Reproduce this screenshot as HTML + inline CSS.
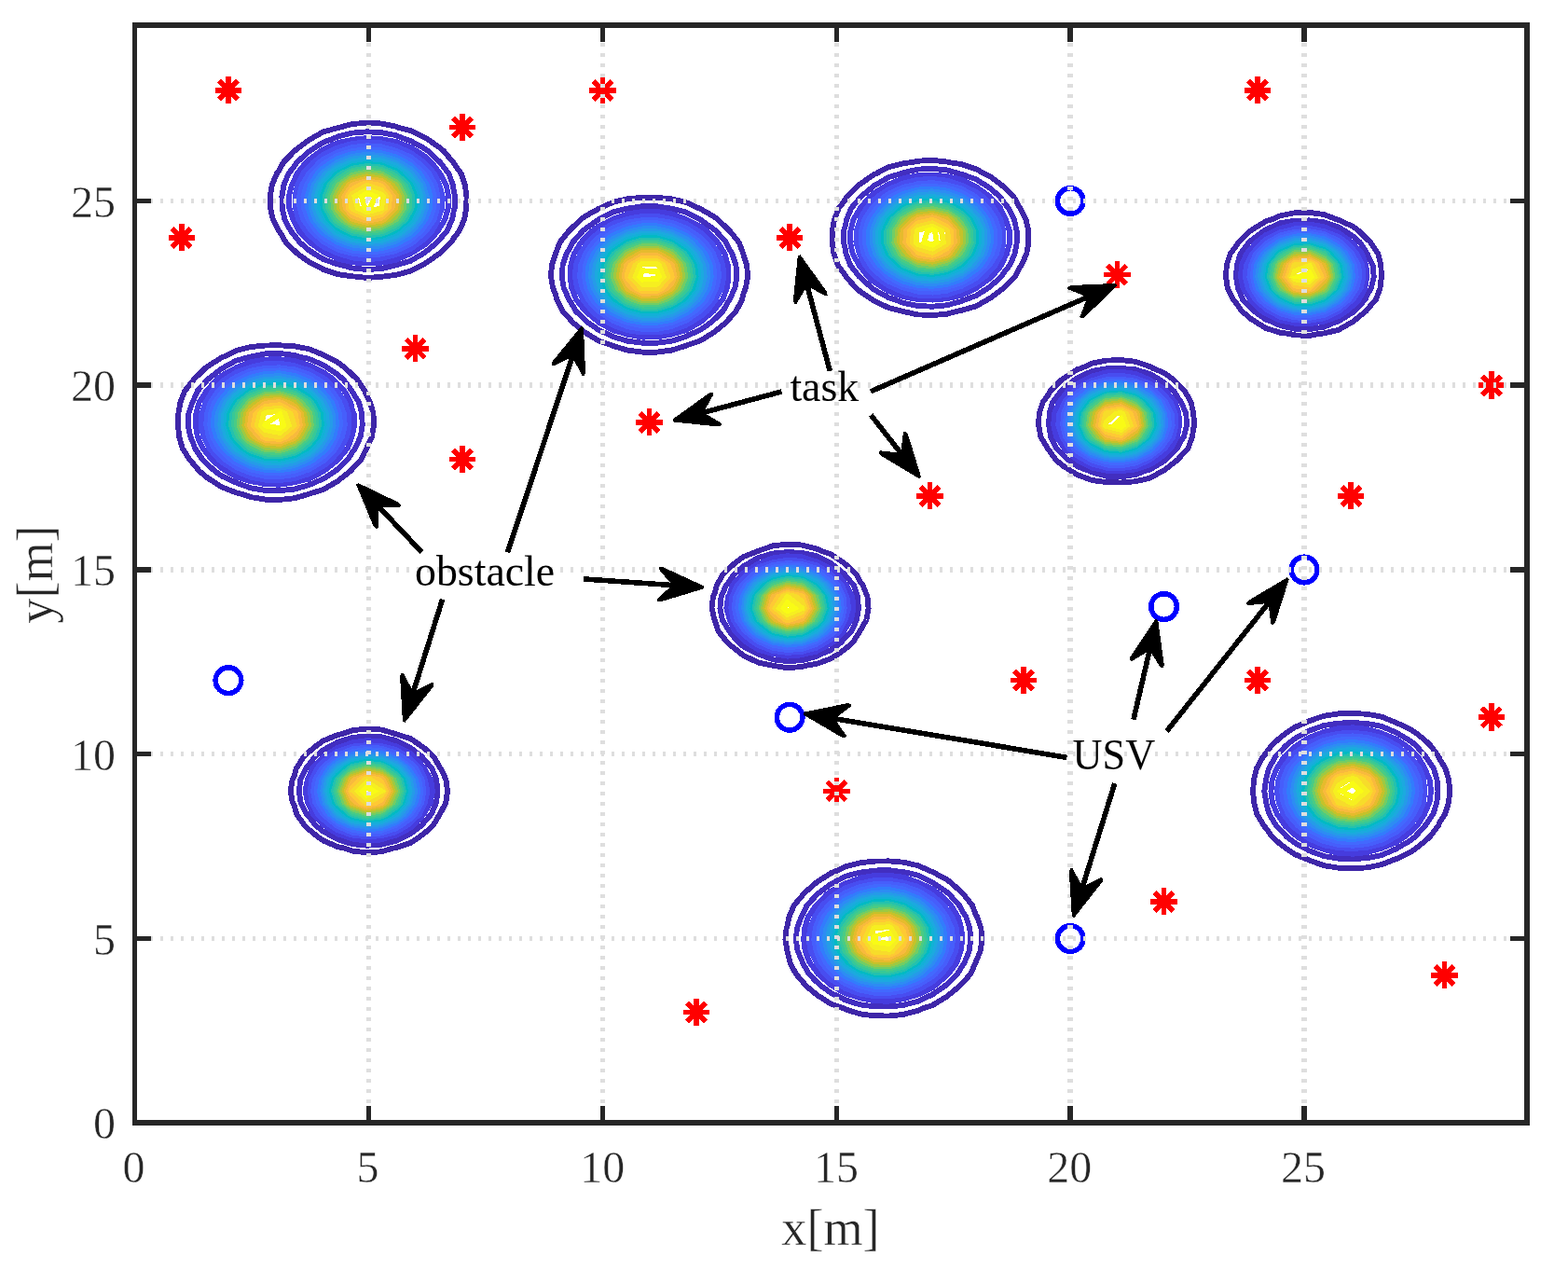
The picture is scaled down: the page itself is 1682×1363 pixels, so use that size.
<!DOCTYPE html>
<html lang="en"><head><meta charset="utf-8"><title>USV task allocation map</title>
<style>
html,body{margin:0;padding:0;background:#fff;overflow:hidden;}
body{width:1682px;height:1363px;overflow:hidden;}
svg{display:block;}
text{font-family:"Liberation Serif","Times New Roman",serif;}
.tk{font-size:48px;fill:#262626;stroke:#fff;stroke-width:0.45px;}
.al{font-size:54.17px;fill:#262626;stroke:#fff;stroke-width:0.4px;}
.an{font-size:45.83px;fill:#000;}
</style></head><body>
<svg width="1682" height="1363" viewBox="0 0 1682 1363">
<rect width="1682" height="1363" fill="#fff"/>
<g fill="none" stroke-width="5.85" stroke-linejoin="miter" shape-rendering="crispEdges">
<path stroke="#3e26a8" d="M904.8 1081.3L906.8 1082.3L922.4 1087.3L937.9 1089.3L953.5 1089.5L969.1 1087.9L984.6 1083.8L990.2 1081.3L1000.2 1078.1L1015.0 1069.1L1015.7 1068.6L1030.1 1056.8L1031.3 1055.5L1041.1 1044.6L1046.6 1032.3L1046.8 1031.4L1051.6 1020.0L1053.4 1007.8L1052.4 995.5L1048.2 983.3L1046.8 981.0L1043.0 971.0L1033.3 958.7L1031.3 956.8L1020.0 946.5L1015.7 943.3L1000.2 934.9L998.2 934.2L984.6 928.2L969.1 924.7L953.5 923.4L937.9 923.6L922.4 925.3L906.8 929.4L896.6 934.2L891.3 936.3L875.7 946.4L875.6 946.5L861.7 958.7L860.2 960.9L851.7 971.0L846.5 983.3L844.6 992.7L843.6 995.5L842.4 1007.8L844.5 1020.0L844.6 1020.3L847.5 1032.3L853.9 1044.6L860.2 1051.7L864.3 1056.8L875.7 1066.5L879.6 1069.1L891.3 1076.5ZM1403.4 922.0L1404.6 922.6L1420.2 928.2L1435.7 930.7L1451.3 931.3L1466.8 930.3L1482.4 927.1L1495.1 922.0L1498.0 921.1L1513.5 913.6L1519.1 909.7L1529.1 901.6L1533.7 897.4L1543.0 885.2L1544.6 881.6L1550.1 872.9L1554.0 860.7L1555.2 848.4L1554.1 836.1L1550.4 823.9L1544.6 814.4L1543.4 811.6L1534.5 799.4L1529.1 794.3L1520.3 787.1L1513.5 782.3L1498.0 775.1L1497.1 774.8L1482.4 768.8L1466.8 765.8L1451.3 764.9L1435.7 765.4L1420.2 767.8L1404.6 773.1L1401.2 774.8L1389.1 779.8L1378.3 787.1L1373.5 790.8L1363.9 799.4L1358.0 807.8L1354.8 811.6L1348.0 823.9L1345.0 836.1L1344.1 848.4L1345.1 860.7L1348.3 872.9L1355.5 885.2L1358.0 888.1L1364.7 897.4L1373.5 905.3L1379.4 909.7L1389.1 916.2ZM369.8 909.7L377.9 912.5L393.5 914.4L409.0 913.3L421.2 909.7L424.6 909.2L440.2 903.9L450.0 897.4L455.7 893.2L464.7 885.2L471.3 873.8L472.0 872.9L478.3 860.7L480.0 848.4L478.5 836.1L472.6 823.9L471.3 822.1L465.4 811.6L455.7 802.8L451.1 799.4L440.2 792.1L424.6 787.1L424.4 787.1L409.0 782.5L393.5 781.5L377.9 783.3L366.8 787.1L362.4 788.0L346.8 794.4L339.7 799.4L331.3 806.5L325.8 811.6L317.9 823.9L315.7 831.9L313.6 836.1L311.6 848.4L313.9 860.7L315.7 864.2L318.2 872.9L326.6 885.2L331.3 889.5L340.9 897.4L346.8 901.5L362.4 908.2ZM828.2 713.5L829.1 713.8L844.6 716.2L860.2 715.0L865.4 713.5L875.7 712.0L891.3 706.4L899.2 701.3L906.8 696.0L914.8 689.0L922.4 676.9L922.5 676.7L929.5 664.5L931.6 652.2L930.5 640.0L925.6 627.7L922.4 623.5L918.2 615.4L906.8 604.9L904.6 603.2L891.3 594.3L881.1 590.9L875.7 588.4L860.2 584.5L844.6 583.7L829.1 585.3L813.5 590.8L813.3 590.9L797.9 596.9L789.1 603.2L782.4 609.2L775.9 615.4L768.8 627.7L766.8 635.9L764.9 640.0L763.5 652.2L766.4 664.5L766.8 665.2L770.4 676.7L780.2 689.0L782.4 691.0L795.4 701.3L797.9 703.0L813.5 710.7ZM258.9 529.6L269.0 533.1L284.6 535.6L300.2 535.9L315.7 534.3L331.3 529.8L331.6 529.6L346.8 525.0L359.8 517.4L362.4 515.8L376.0 505.1L377.9 502.9L387.4 492.8L393.4 480.6L393.5 480.1L398.9 468.3L401.0 456.1L400.5 443.8L397.1 431.5L393.5 425.0L391.4 419.3L383.2 407.0L377.9 401.8L370.5 394.8L362.4 388.7L350.4 382.5L346.8 380.5L331.3 374.2L315.7 371.3L300.2 370.3L284.6 370.5L269.0 372.1L253.5 375.9L240.1 382.5L237.9 383.4L222.4 393.1L220.3 394.8L207.8 407.0L206.8 408.5L198.2 419.3L193.4 431.5L191.3 443.8L191.3 444.5L190.6 456.1L191.3 459.3L192.2 468.3L195.7 480.6L203.3 492.8L206.8 496.8L213.8 505.1L222.4 512.3L230.2 517.4L237.9 522.3L253.5 528.4ZM1199.3 517.4L1202.4 517.5L1203.4 517.4L1218.0 516.3L1233.5 512.7L1247.2 505.1L1249.1 504.2L1263.5 492.8L1264.6 491.5L1274.5 480.6L1279.0 468.3L1280.2 459.5L1281.2 456.1L1280.2 443.9L1280.2 443.8L1277.7 431.5L1270.8 419.3L1264.6 413.1L1258.5 407.0L1249.1 400.1L1236.6 394.8L1233.5 393.1L1218.0 387.8L1202.4 386.1L1186.8 386.6L1171.3 389.7L1160.2 394.8L1155.7 396.2L1140.2 406.2L1139.1 407.0L1126.6 419.3L1124.6 423.2L1118.6 431.5L1114.7 443.8L1114.1 456.1L1116.4 468.3L1123.6 480.6L1124.6 481.8L1132.3 492.8L1140.2 499.5L1149.1 505.1L1155.7 509.2L1171.3 515.0L1186.8 517.1ZM656.2 370.2L657.9 371.0L673.5 375.7L689.1 377.6L704.6 377.6L720.2 375.6L735.7 370.8L736.9 370.2L751.3 365.4L763.2 358.0L766.8 355.7L778.9 345.7L782.4 341.6L789.7 333.5L796.0 321.2L797.9 313.6L799.9 308.9L802.1 296.7L801.2 284.4L797.9 275.0L797.4 272.2L792.7 259.9L782.7 247.6L782.4 247.3L770.1 235.4L766.8 232.9L751.3 223.9L749.1 223.1L735.7 216.9L720.2 213.3L704.6 211.8L689.1 211.8L673.5 213.2L657.9 216.7L644.1 223.1L642.4 223.7L626.8 232.5L623.0 235.4L611.3 246.7L610.3 247.6L600.5 259.9L595.9 272.2L595.7 273.2L591.9 284.4L591.0 296.7L593.1 308.9L595.7 315.1L597.3 321.2L603.4 333.5L611.3 342.1L614.3 345.7L626.8 356.0L630.0 358.0L642.4 365.6ZM1383.5 358.0L1389.1 359.4L1404.6 359.9L1414.5 358.0L1420.2 357.5L1435.7 353.8L1449.9 345.7L1451.3 345.0L1465.5 333.5L1466.8 331.7L1476.0 321.2L1480.5 308.9L1481.9 296.7L1481.3 284.4L1478.3 272.2L1470.1 259.9L1466.8 256.7L1457.7 247.6L1451.3 242.9L1435.7 235.8L1434.0 235.4L1420.2 230.0L1404.6 227.9L1389.1 228.2L1373.5 231.3L1364.1 235.4L1358.0 237.2L1342.4 246.8L1341.3 247.6L1328.4 259.9L1326.8 262.7L1319.8 272.2L1315.8 284.4L1315.0 296.7L1316.8 308.9L1322.7 321.2L1326.8 326.0L1331.9 333.5L1342.4 342.3L1347.8 345.7L1358.0 352.0L1373.5 356.8ZM967.2 333.5L969.1 334.1L984.6 337.4L1000.2 338.1L1015.7 336.7L1027.8 333.5L1031.3 332.9L1046.8 328.4L1059.6 321.2L1062.4 319.7L1076.6 308.9L1077.9 307.6L1088.7 296.7L1093.5 287.5L1095.7 284.4L1101.2 272.2L1103.4 259.9L1103.2 247.6L1100.6 235.4L1094.3 223.1L1093.5 222.0L1087.2 210.8L1077.9 201.7L1074.7 198.6L1062.4 189.5L1056.2 186.3L1046.8 181.2L1031.3 176.1L1017.9 174.1L1015.7 173.5L1000.2 171.8L984.6 172.7L978.1 174.1L969.1 175.2L953.5 179.1L939.5 186.3L937.9 187.0L922.4 197.5L921.0 198.6L908.7 210.8L906.8 214.0L899.9 223.1L895.0 235.4L892.9 247.6L892.8 259.9L894.5 272.2L898.8 284.4L906.8 295.4L907.5 296.7L918.3 308.9L922.4 312.4L935.7 321.2L937.9 322.6L953.5 330.2ZM382.3 296.7L393.5 297.9L409.0 296.9L410.0 296.7L424.6 294.9L440.2 290.7L452.3 284.4L455.7 282.9L471.0 272.2L471.3 271.9L484.0 259.9L486.8 255.3L492.7 247.6L498.0 235.4L500.3 223.1L500.5 210.8L498.9 198.6L494.7 186.3L486.8 175.2L486.2 174.1L475.8 161.8L471.3 158.0L458.9 149.5L455.7 147.5L440.2 140.0L429.0 137.3L424.6 135.7L409.0 132.5L393.5 131.7L377.9 133.0L362.4 137.1L361.8 137.3L346.8 141.4L332.4 149.5L331.3 150.1L316.0 161.8L315.7 162.1L304.0 174.1L300.2 181.5L296.8 186.3L291.7 198.6L289.7 210.8L290.1 223.1L292.8 235.4L299.3 247.6L300.2 248.8L306.6 259.9L315.7 268.8L319.4 272.2L331.3 280.8L338.5 284.4L346.8 288.9L362.4 294.1L377.9 296.4Z"/>
<path stroke="#422ec0" d="M900.4 1069.1L906.8 1072.4L922.4 1077.3L937.9 1079.3L953.5 1079.5L969.1 1077.9L984.6 1073.8L994.4 1069.1L1000.2 1066.6L1014.3 1056.8L1015.7 1055.6L1027.0 1044.6L1031.3 1037.1L1034.6 1032.3L1039.6 1020.0L1041.2 1007.8L1040.3 995.5L1036.3 983.3L1031.3 975.4L1029.0 971.0L1018.1 958.7L1015.7 956.7L1000.6 946.5L1000.2 946.2L984.6 938.6L969.1 935.0L960.3 934.2L953.5 933.1L937.9 933.5L934.1 934.2L922.4 935.6L906.8 939.8L894.2 946.5L891.3 948.0L877.0 958.7L875.7 960.0L865.5 971.0L860.2 982.2L859.5 983.3L854.9 995.5L853.8 1007.8L855.7 1020.0L860.2 1030.0L860.9 1032.3L867.8 1044.6L875.7 1052.6L880.3 1056.8L891.3 1064.8ZM1399.7 909.7L1404.6 912.4L1420.2 918.1L1435.7 920.6L1451.3 921.2L1466.8 920.1L1482.4 917.0L1498.0 910.1L1498.6 909.7L1513.5 901.0L1517.9 897.4L1528.9 885.2L1529.1 884.9L1537.4 872.9L1541.3 860.7L1542.5 848.4L1541.5 836.1L1537.8 823.9L1529.6 811.6L1529.1 811.1L1518.9 799.4L1513.5 795.0L1500.3 787.1L1498.0 785.7L1482.4 779.0L1466.8 776.0L1451.3 775.0L1435.7 775.6L1420.2 778.0L1404.6 783.5L1398.1 787.1L1389.1 792.0L1379.6 799.4L1373.5 805.9L1368.2 811.6L1361.1 823.9L1358.0 836.1L1358.0 836.6L1356.3 848.4L1358.0 858.8L1358.1 860.7L1361.5 872.9L1368.9 885.2L1373.5 890.1L1380.5 897.4L1389.1 904.0ZM357.6 897.4L362.4 900.1L377.9 905.2L393.5 906.7L409.0 905.8L424.6 901.9L433.3 897.4L440.2 894.3L452.1 885.2L455.7 881.0L462.8 872.9L468.0 860.7L469.4 848.4L468.2 836.1L463.3 823.9L455.7 815.1L452.8 811.6L440.2 801.8L434.9 799.4L424.6 794.0L409.0 790.3L393.5 789.5L377.9 790.9L362.4 795.8L355.9 799.4L346.8 804.2L337.7 811.6L331.3 820.3L328.3 823.9L322.3 836.1L320.8 848.4L322.6 860.7L328.9 872.9L331.3 875.7L338.6 885.2L346.8 891.8ZM813.1 701.3L813.5 701.5L829.1 707.3L844.6 709.1L860.2 708.2L875.7 704.0L881.2 701.3L891.3 697.0L902.0 689.0L906.8 683.9L913.4 676.7L919.1 664.5L920.9 652.2L920.0 640.0L915.9 627.7L906.8 616.9L905.7 615.4L891.3 604.1L889.4 603.2L875.7 596.1L860.2 592.8L844.6 592.1L829.1 593.5L813.5 598.0L804.5 603.2L797.9 607.0L787.8 615.4L782.4 623.4L778.9 627.7L773.6 640.0L772.4 652.2L774.7 664.5L782.1 676.7L782.4 677.1L792.1 689.0L797.9 693.6ZM252.9 517.4L253.5 517.7L269.0 523.4L284.6 525.9L300.2 526.2L315.7 524.6L331.3 520.2L337.5 517.4L346.8 513.6L359.6 505.1L362.4 502.9L373.1 492.8L377.9 485.1L381.2 480.6L386.7 468.3L388.7 456.1L388.2 443.8L385.0 431.5L377.9 420.0L377.6 419.3L368.3 407.0L362.4 401.9L352.1 394.8L346.8 391.4L331.3 384.8L320.5 382.5L315.7 381.0L300.2 378.9L284.6 379.3L269.3 382.5L269.0 382.5L253.5 386.6L238.6 394.8L237.9 395.1L222.8 407.0L222.4 407.4L211.8 419.3L206.8 430.9L206.4 431.5L202.3 443.8L201.6 456.1L204.2 468.3L206.8 473.7L209.1 480.6L217.2 492.8L222.4 497.9L230.4 505.1L237.9 510.5ZM1168.5 505.1L1171.3 506.4L1186.8 510.6L1202.4 511.3L1218.0 509.0L1228.0 505.1L1233.5 503.5L1249.1 494.3L1251.0 492.8L1262.8 480.6L1264.6 476.7L1270.0 468.3L1273.0 456.1L1272.3 443.8L1267.2 431.5L1264.6 428.1L1259.2 419.3L1249.1 410.4L1243.8 407.0L1233.5 400.9L1218.0 396.4L1202.4 394.9L1186.8 395.3L1171.3 398.0L1155.7 405.3L1153.1 407.0L1140.2 417.4L1138.1 419.3L1129.0 431.5L1125.6 443.8L1125.2 456.1L1127.1 468.3L1133.2 480.6L1140.2 487.8L1145.4 492.8L1155.7 500.2ZM651.4 358.0L657.9 361.2L673.5 365.8L689.1 367.7L704.6 367.7L720.2 365.8L735.7 361.0L741.8 358.0L751.3 353.8L762.7 345.7L766.8 342.1L775.6 333.5L782.4 321.5L782.6 321.2L788.4 308.9L790.4 296.7L789.5 284.4L785.4 272.2L782.4 267.2L778.9 259.9L767.9 247.6L766.8 246.7L751.3 235.5L751.1 235.4L735.7 227.4L720.2 223.6L715.5 223.1L704.6 221.2L689.1 221.1L677.6 223.1L673.5 223.5L657.9 227.2L642.4 235.2L642.1 235.4L626.8 246.2L625.2 247.6L614.3 259.9L611.3 266.3L607.6 272.2L603.6 284.4L602.8 296.7L604.7 308.9L610.4 321.2L611.3 322.5L617.6 333.5L626.8 342.5L630.5 345.7L642.4 354.0ZM1366.1 345.7L1373.5 349.2L1389.1 352.7L1404.6 353.1L1420.2 350.6L1432.0 345.7L1435.7 344.5L1451.3 335.0L1453.1 333.5L1464.5 321.2L1466.8 315.7L1470.9 308.9L1473.7 296.7L1472.6 284.4L1466.8 272.7L1466.7 272.2L1458.9 259.9L1451.3 253.3L1442.5 247.6L1435.7 243.5L1420.2 238.2L1404.6 236.4L1389.1 236.7L1373.5 239.2L1358.0 246.3L1355.9 247.6L1342.4 257.6L1339.8 259.9L1330.5 272.2L1327.0 284.4L1326.8 287.1L1325.7 296.7L1326.8 301.1L1327.9 308.9L1333.1 321.2L1342.4 331.0L1345.0 333.5L1358.0 342.7ZM959.7 321.2L969.1 324.9L984.6 328.0L1000.2 328.7L1015.7 327.3L1031.3 323.1L1035.7 321.2L1046.8 317.2L1059.9 308.9L1062.4 307.1L1074.1 296.7L1077.9 291.1L1083.2 284.4L1088.6 272.2L1090.8 259.9L1090.6 247.6L1088.0 235.4L1081.8 223.1L1077.9 218.4L1072.4 210.8L1062.4 202.2L1057.1 198.6L1046.8 192.2L1031.3 186.7L1029.4 186.3L1015.7 182.4L1000.2 180.9L984.6 181.6L969.1 185.1L965.9 186.3L953.5 190.0L938.6 198.6L937.9 199.0L923.5 210.8L922.4 212.3L913.2 223.1L908.1 235.4L906.8 242.1L905.1 247.6L904.9 259.9L906.8 267.4L907.6 272.2L912.1 284.4L921.8 296.7L922.4 297.2L935.4 308.9L937.9 310.8L953.5 319.3ZM366.9 284.4L377.9 287.5L393.5 289.0L409.0 288.1L424.6 284.4L424.6 284.4L440.2 279.9L453.5 272.2L455.7 270.8L469.0 259.9L471.3 257.2L479.5 247.6L485.0 235.4L486.8 225.9L487.7 223.1L488.2 210.8L486.8 205.1L485.9 198.6L481.5 186.3L472.1 174.1L471.3 173.3L458.9 161.8L455.7 159.4L440.2 151.0L435.6 149.5L424.6 145.1L409.0 142.1L393.5 141.3L377.9 142.6L362.4 146.5L355.3 149.5L346.8 152.6L332.4 161.8L331.3 162.6L318.5 174.1L315.7 178.2L309.5 186.3L304.4 198.6L302.4 210.8L302.7 223.1L305.4 235.4L311.9 247.6L315.7 252.3L321.6 259.9L331.3 268.2L337.3 272.2L346.8 278.0L362.4 283.5Z"/>
<path stroke="#463cde" d="M919.1 1069.1L922.4 1070.3L937.9 1073.4L953.5 1073.7L969.1 1071.3L975.6 1069.1L984.6 1066.7L1000.2 1058.9L1003.1 1056.8L1015.7 1045.9L1017.1 1044.6L1026.4 1032.3L1030.6 1020.0L1031.3 1014.3L1032.5 1007.8L1031.3 996.9L1031.2 995.5L1027.8 983.3L1020.2 971.0L1015.7 966.3L1007.7 958.7L1000.2 953.3L985.5 946.5L984.6 946.0L969.1 940.7L953.5 938.7L937.9 938.9L922.4 941.6L909.6 946.5L906.8 947.4L891.3 955.8L887.4 958.7L875.7 970.6L875.4 971.0L866.8 983.3L863.1 995.5L862.2 1007.8L863.7 1020.0L868.5 1032.3L875.7 1041.8L877.7 1044.6L891.3 1056.3L892.1 1056.8L906.8 1065.4ZM1416.9 909.7L1420.2 911.0L1435.7 914.8L1451.3 915.7L1466.8 914.1L1481.7 909.7L1482.4 909.5L1498.0 903.3L1506.8 897.4L1513.5 891.9L1520.5 885.2L1528.2 872.9L1529.1 870.2L1533.4 860.7L1535.1 848.4L1533.6 836.1L1529.1 825.7L1528.5 823.9L1521.2 811.6L1513.5 804.1L1507.8 799.4L1498.0 792.7L1484.1 787.1L1482.4 786.3L1466.8 781.8L1451.3 780.3L1435.7 781.2L1420.2 784.8L1414.6 787.1L1404.6 790.7L1391.0 799.4L1389.1 800.8L1377.5 811.6L1373.5 818.1L1369.5 823.9L1364.7 836.1L1363.4 848.4L1364.9 860.7L1369.9 872.9L1373.5 877.9L1378.2 885.2L1389.1 895.2L1392.0 897.4L1404.6 905.4ZM372.5 897.4L377.9 899.5L393.5 901.8L409.0 900.5L418.3 897.4L424.6 896.0L440.2 887.8L443.6 885.2L454.8 872.9L455.7 870.9L461.8 860.7L463.9 848.4L462.1 836.1L455.7 825.0L455.2 823.9L444.7 811.6L440.2 808.1L424.6 800.2L421.1 799.4L409.0 795.4L393.5 794.1L377.9 796.3L369.9 799.4L362.4 801.6L346.9 811.6L346.8 811.7L335.0 823.9L331.3 833.5L329.8 836.1L327.5 848.4L330.1 860.7L331.3 862.6L335.5 872.9L346.8 884.4L347.8 885.2L362.4 894.5ZM830.4 701.3L844.6 703.7L860.2 702.4L863.6 701.3L875.7 698.7L891.3 690.2L892.9 689.0L905.4 676.7L906.8 674.0L912.9 664.5L915.5 652.2L914.2 640.0L908.0 627.7L906.8 626.3L898.3 615.4L891.3 609.9L877.5 603.2L875.7 602.3L860.2 597.4L844.6 596.3L829.1 598.4L817.0 603.2L813.5 604.3L797.9 614.2L796.4 615.4L785.7 627.7L782.4 637.3L781.0 640.0L779.3 652.2L782.4 663.4L782.6 664.5L788.1 676.7L797.9 686.4L801.3 689.0L813.5 696.8L829.1 701.1ZM276.0 517.4L284.6 519.2L300.2 519.7L315.3 517.4L315.7 517.3L331.3 513.6L346.8 505.5L347.5 505.1L362.4 493.2L362.8 492.8L372.9 480.6L377.6 468.3L377.9 466.1L380.3 456.1L379.6 443.8L377.9 439.2L376.1 431.5L369.6 419.3L362.4 411.6L357.7 407.0L346.8 399.0L337.8 394.8L331.3 391.5L315.7 386.9L300.2 385.2L284.6 385.5L269.0 388.1L253.5 394.2L252.5 394.8L237.9 402.7L232.5 407.0L222.4 418.2L221.4 419.3L213.6 431.5L210.3 443.8L209.8 456.1L211.8 468.3L217.4 480.6L222.4 486.8L227.0 492.8L237.9 502.1L242.6 505.1L253.5 511.4L269.0 516.3ZM1200.1 505.1L1202.4 505.2L1203.2 505.1L1218.0 503.5L1233.5 498.3L1242.1 492.8L1249.1 487.4L1256.2 480.6L1262.9 468.3L1264.6 458.8L1265.5 456.1L1264.6 446.4L1264.5 443.8L1260.8 431.5L1250.8 419.3L1249.1 417.7L1233.5 407.4L1232.3 407.0L1218.0 400.9L1202.4 398.7L1186.8 399.4L1171.3 403.4L1164.3 407.0L1155.7 411.2L1145.5 419.3L1140.2 426.3L1135.9 431.5L1130.9 443.8L1130.2 456.1L1133.1 468.3L1140.2 478.6L1141.4 480.6L1155.1 492.8L1155.7 493.3L1171.3 501.6L1186.8 504.7ZM671.2 358.0L673.5 358.8L689.1 361.6L704.6 361.5L720.2 358.6L722.0 358.0L735.7 354.2L750.7 345.7L751.3 345.4L765.5 333.5L766.8 331.7L775.2 321.2L779.9 308.9L781.5 296.7L780.8 284.4L777.5 272.2L769.8 259.9L766.8 256.7L757.8 247.6L751.3 242.7L736.5 235.4L735.7 234.9L720.2 229.3L704.6 227.0L689.1 227.0L673.5 229.2L657.9 234.7L656.6 235.4L642.4 242.4L635.3 247.6L626.8 256.1L623.3 259.9L615.7 272.2L612.4 284.4L611.7 296.7L613.3 308.9L618.0 321.2L626.8 332.3L627.7 333.5L642.4 345.7L642.4 345.7L657.9 354.4ZM1385.0 345.7L1389.1 346.8L1404.6 347.4L1412.6 345.7L1420.2 344.7L1435.7 339.3L1444.6 333.5L1451.3 327.8L1457.8 321.2L1464.3 308.9L1466.3 296.7L1465.4 284.4L1461.1 272.2L1451.3 261.1L1450.1 259.9L1435.7 249.6L1430.3 247.6L1420.2 243.2L1404.6 240.5L1389.1 241.0L1373.5 244.8L1367.8 247.6L1358.0 252.0L1347.6 259.9L1342.4 266.1L1337.2 272.2L1332.0 284.4L1331.0 296.7L1333.4 308.9L1341.1 321.2L1342.4 322.5L1353.6 333.5L1358.0 336.5L1373.5 343.7ZM993.3 321.2L1000.2 321.6L1003.8 321.2L1015.7 320.3L1031.3 316.8L1046.8 309.2L1047.3 308.9L1062.4 298.0L1063.9 296.7L1074.3 284.4L1077.9 275.8L1080.0 272.2L1083.2 259.9L1082.9 247.6L1079.0 235.4L1077.9 233.5L1073.1 223.1L1062.4 211.6L1061.7 210.8L1046.8 200.1L1043.6 198.6L1031.3 192.6L1015.7 188.9L1000.2 187.6L984.6 188.2L969.1 191.1L953.5 197.5L951.6 198.6L937.9 206.9L933.2 210.8L922.9 223.1L922.4 224.1L915.5 235.4L912.3 247.6L912.1 259.9L914.7 272.2L921.5 284.4L922.4 285.5L930.9 296.7L937.9 302.6L947.8 308.9L953.5 312.3L969.1 318.3L984.6 320.9ZM351.2 272.2L362.4 277.5L377.9 281.3L393.5 282.5L409.0 281.8L424.6 278.8L439.8 272.2L440.2 272.0L455.7 262.5L458.9 259.9L469.9 247.6L471.3 245.0L477.3 235.4L480.8 223.1L481.2 210.8L478.7 198.6L472.1 186.3L471.3 185.2L463.0 174.1L455.7 167.7L446.8 161.8L440.2 157.8L424.6 151.9L410.7 149.5L409.0 149.1L393.5 148.1L381.0 149.5L377.9 149.8L362.4 153.0L346.8 160.2L344.3 161.8L331.3 171.3L328.2 174.1L318.5 186.3L315.7 193.1L312.8 198.6L309.9 210.8L310.3 223.1L314.4 235.4L315.7 237.6L320.6 247.6L331.3 258.9L332.3 259.9L346.8 270.2Z"/>
<path stroke="#484df0" d="M901.6 1056.8L906.8 1059.9L922.4 1065.7L937.9 1068.1L953.5 1068.3L969.1 1066.5L984.6 1061.6L993.3 1056.8L1000.2 1052.7L1010.0 1044.6L1015.7 1037.2L1019.6 1032.3L1025.2 1020.0L1027.1 1007.8L1026.0 995.5L1021.6 983.3L1015.7 975.2L1012.8 971.0L1000.2 959.9L998.4 958.7L984.6 950.8L969.1 946.5L969.1 946.5L953.5 943.7L937.9 944.1L926.8 946.5L922.4 947.2L906.8 952.4L896.4 958.7L891.3 962.4L881.9 971.0L875.7 980.6L873.9 983.3L868.9 995.5L867.7 1007.8L869.7 1020.0L875.7 1031.8L875.9 1032.3L884.9 1044.6L891.3 1050.1ZM1444.4 909.7L1451.3 910.2L1455.5 909.7L1466.8 908.8L1482.4 905.0L1497.0 897.4L1498.0 896.9L1512.5 885.2L1513.5 884.0L1522.3 872.9L1526.9 860.7L1528.3 848.4L1527.1 836.1L1522.8 823.9L1513.5 812.0L1513.2 811.6L1498.3 799.4L1498.0 799.1L1482.4 791.0L1466.8 787.4L1463.4 787.1L1451.3 785.6L1435.7 786.7L1434.3 787.1L1420.2 789.8L1404.6 796.4L1400.0 799.4L1389.1 807.7L1384.9 811.6L1376.2 823.9L1373.5 831.7L1371.5 836.1L1369.8 848.4L1371.8 860.7L1373.5 864.4L1376.5 872.9L1385.7 885.2L1389.1 888.3L1401.4 897.4L1404.6 899.5L1420.2 906.3L1435.7 909.3ZM354.4 885.2L362.4 890.3L377.9 895.6L393.5 897.2L409.0 896.3L424.6 892.2L436.4 885.2L440.2 882.4L450.1 872.9L455.7 860.7L455.7 860.4L458.5 848.4L456.0 836.1L455.7 835.6L450.6 823.9L440.2 813.6L437.5 811.6L424.6 803.9L409.0 799.9L399.3 799.4L393.5 798.8L390.0 799.4L377.9 800.6L362.4 805.7L353.3 811.6L346.8 817.1L340.3 823.9L334.3 836.1L332.8 848.4L334.5 860.7L340.9 872.9L346.8 878.9ZM808.6 689.0L813.5 692.1L829.1 698.0L844.6 699.8L860.2 698.9L875.7 694.7L885.6 689.0L891.3 685.2L900.4 676.7L906.7 664.5L906.8 664.0L910.2 652.2L908.4 640.0L906.8 636.9L903.2 627.7L891.3 615.6L891.1 615.4L875.7 606.1L864.0 603.2L860.2 601.9L844.6 600.6L829.7 603.2L829.1 603.3L813.5 608.2L802.8 615.4L797.9 620.0L790.8 627.7L785.4 640.0L784.3 652.2L786.6 664.5L794.0 676.7L797.9 680.6ZM253.2 505.1L253.5 505.3L269.0 511.8L284.6 514.6L300.2 515.0L315.7 513.2L331.3 508.2L337.1 505.1L346.8 499.8L355.6 492.8L362.4 484.9L366.0 480.6L372.3 468.3L374.5 456.1L374.0 443.8L370.2 431.5L362.4 420.1L361.8 419.3L349.0 407.0L346.8 405.4L331.3 396.9L323.6 394.8L315.7 392.0L300.2 389.7L284.6 390.2L269.0 393.7L266.3 394.8L253.5 399.2L241.3 407.0L237.9 409.6L227.9 419.3L222.4 428.8L220.6 431.5L216.2 443.8L215.5 456.1L218.2 468.3L222.4 476.0L224.5 480.6L234.8 492.8L237.9 495.5ZM1162.8 492.8L1171.3 497.5L1186.8 501.6L1202.4 502.2L1218.0 500.0L1233.5 493.1L1233.9 492.8L1249.1 481.1L1249.6 480.6L1258.5 468.3L1261.4 456.1L1260.7 443.8L1255.8 431.5L1249.1 423.9L1244.7 419.3L1233.5 411.3L1221.5 407.0L1218.0 405.5L1202.4 402.6L1186.8 403.5L1175.6 407.0L1171.3 408.1L1155.7 416.3L1152.0 419.3L1141.7 431.5L1140.2 435.7L1136.2 443.8L1135.2 456.1L1139.2 468.3L1140.2 469.8L1146.5 480.6L1155.7 488.7ZM652.2 345.7L657.9 348.9L673.5 354.3L689.1 356.5L704.6 356.4L720.2 354.2L735.7 348.7L740.9 345.7L751.3 339.4L758.4 333.5L766.8 322.4L767.8 321.2L774.1 308.9L776.3 296.7L775.4 284.4L770.9 272.2L766.8 266.3L762.7 259.9L751.3 249.4L748.7 247.6L735.7 239.8L721.3 235.4L720.2 234.9L704.6 231.9L689.1 231.8L673.5 234.8L671.9 235.4L657.9 239.6L644.5 247.6L642.4 249.1L630.5 259.9L626.8 265.5L622.2 272.2L617.8 284.4L616.9 296.7L619.0 308.9L625.2 321.2L626.8 323.2L634.8 333.5L642.4 339.8ZM1361.5 333.5L1373.5 339.9L1389.1 343.4L1404.6 343.8L1420.2 341.3L1435.7 334.1L1436.8 333.5L1451.2 321.2L1451.3 321.1L1459.7 308.9L1462.4 296.7L1461.3 284.4L1455.5 272.2L1451.3 267.4L1444.1 259.9L1435.7 253.9L1420.2 248.0L1417.7 247.6L1404.6 244.7L1389.1 245.3L1380.9 247.6L1373.5 249.2L1358.0 257.0L1354.2 259.9L1343.3 272.2L1342.4 274.3L1337.0 284.4L1335.6 296.7L1338.8 308.9L1342.4 314.3L1346.3 321.2L1358.0 331.4ZM959.3 308.9L969.1 313.3L984.6 316.7L1000.2 317.5L1015.7 316.0L1031.3 311.3L1036.2 308.9L1046.8 303.8L1056.3 296.7L1062.4 290.3L1067.6 284.4L1074.0 272.2L1076.5 259.9L1076.3 247.6L1073.3 235.4L1066.0 223.1L1062.4 219.2L1053.9 210.8L1046.8 205.7L1031.3 198.6L1031.3 198.6L1015.7 193.6L1000.2 191.9L984.6 192.7L969.1 196.5L964.2 198.6L953.5 202.8L941.6 210.8L937.9 214.1L929.1 223.1L922.7 235.4L922.4 236.7L918.7 247.6L918.4 259.9L921.9 272.2L922.4 273.0L927.7 284.4L937.9 295.3L939.4 296.7L953.5 306.5ZM364.3 272.2L377.9 276.4L393.5 278.1L409.0 277.1L424.6 273.1L426.8 272.2L440.2 266.9L450.6 259.9L455.7 255.5L463.5 247.6L470.3 235.4L471.3 231.5L474.3 223.1L474.8 210.8L471.5 198.6L471.3 198.2L466.0 186.3L455.7 175.1L454.7 174.1L440.2 163.7L435.7 161.8L424.6 156.8L409.0 153.3L393.5 152.5L377.9 153.9L362.4 158.3L355.3 161.8L346.8 165.9L336.0 174.1L331.3 179.1L324.9 186.3L318.9 198.6L316.6 210.8L317.0 223.1L320.2 235.4L327.8 247.6L331.3 251.3L340.3 259.9L346.8 264.5L362.4 271.7Z"/>
<path stroke="#465efb" d="M911.2 1056.8L922.4 1061.6L937.9 1064.6L953.5 1064.9L969.1 1062.5L983.9 1056.8L984.6 1056.6L1000.2 1047.2L1003.4 1044.6L1013.8 1032.3L1015.7 1028.0L1019.9 1020.0L1022.2 1007.8L1020.9 995.5L1015.7 984.1L1015.4 983.3L1006.8 971.0L1000.2 965.1L990.3 958.7L984.6 955.5L969.1 950.0L953.5 947.9L937.9 948.1L922.4 950.9L906.8 957.4L904.6 958.7L891.3 968.3L888.3 971.0L879.1 983.3L875.7 993.1L874.7 995.5L873.2 1007.8L875.7 1019.9L875.7 1020.0L880.8 1032.3L891.3 1044.0L891.9 1044.6L906.8 1055.0ZM1410.4 897.4L1420.2 902.1L1435.7 905.8L1451.3 906.7L1466.8 905.2L1482.4 900.5L1488.2 897.4L1498.0 892.1L1506.6 885.2L1513.5 876.7L1516.5 872.9L1522.2 860.7L1523.9 848.4L1522.4 836.1L1517.0 823.9L1513.5 819.4L1507.4 811.6L1498.0 803.9L1489.8 799.4L1482.4 795.5L1466.8 790.9L1451.3 789.4L1435.7 790.2L1420.2 793.9L1408.8 799.4L1404.6 801.4L1391.4 811.6L1389.1 814.3L1381.3 823.9L1376.4 836.1L1375.1 848.4L1376.6 860.7L1381.8 872.9L1389.1 881.7L1392.2 885.2L1404.6 894.6ZM361.0 885.2L362.4 886.0L377.9 892.7L393.5 894.6L409.0 893.5L424.6 888.4L430.0 885.2L440.2 877.9L445.3 872.9L452.3 860.7L454.3 848.4L452.6 836.1L446.0 823.9L440.2 818.2L431.4 811.6L424.6 807.5L409.0 802.6L393.5 801.5L377.9 803.4L362.4 809.8L359.6 811.6L346.8 822.6L345.5 823.9L338.0 836.1L336.1 848.4L338.3 860.7L346.3 872.9L346.8 873.4ZM815.8 689.0L829.1 694.8L844.6 697.0L860.2 695.9L875.7 690.7L878.6 689.0L891.3 680.6L895.4 676.7L903.3 664.5L905.7 652.2L904.6 640.0L898.9 627.7L891.3 620.0L885.5 615.4L875.7 609.5L860.2 605.0L844.6 604.1L829.1 605.9L813.5 612.2L808.6 615.4L797.9 625.4L795.8 627.7L789.1 640.0L787.8 652.2L790.6 664.5L797.9 674.9L799.2 676.7L813.5 688.0ZM263.8 505.1L269.0 507.3L284.6 510.8L300.2 511.3L315.7 509.0L326.4 505.1L331.3 503.5L346.8 494.2L348.6 492.8L360.2 480.6L362.4 476.2L366.9 468.3L369.8 456.1L369.0 443.8L364.4 431.5L362.4 428.6L356.3 419.3L346.8 410.7L341.3 407.0L331.3 401.2L315.7 396.3L302.7 394.8L300.2 394.3L288.8 394.8L284.6 394.9L269.0 397.6L253.5 404.1L248.9 407.0L237.9 415.5L234.0 419.3L225.7 431.5L222.4 442.9L222.0 443.8L221.2 456.1L222.4 460.7L223.8 468.3L229.8 480.6L237.9 489.4L241.7 492.8L253.5 501.0ZM1170.3 492.8L1171.3 493.4L1186.8 498.5L1202.4 499.3L1218.0 496.5L1226.1 492.8L1233.5 489.6L1245.1 480.6L1249.1 475.1L1254.1 468.3L1257.7 456.1L1256.8 443.8L1250.7 431.5L1249.1 429.7L1239.2 419.3L1233.5 415.3L1218.0 408.8L1205.2 407.0L1202.4 406.5L1194.2 407.0L1186.8 407.3L1171.3 411.1L1157.9 419.3L1155.7 421.0L1145.6 431.5L1140.9 443.8L1140.2 456.1L1143.0 468.3L1151.6 480.6L1155.7 484.2ZM662.2 345.7L673.5 350.2L689.1 352.9L704.6 352.9L720.2 350.1L730.9 345.7L735.7 343.9L751.2 333.5L751.3 333.4L762.6 321.2L766.8 311.8L768.4 308.9L771.1 296.7L769.9 284.4L766.8 277.1L765.2 272.2L756.7 259.9L751.3 254.9L740.9 247.6L735.7 244.5L720.2 238.6L704.6 236.2L689.1 236.2L673.5 238.5L657.9 244.3L652.3 247.6L642.4 254.5L636.5 259.9L628.1 272.2L626.8 275.8L623.2 284.4L622.0 296.7L624.7 308.9L626.8 312.9L630.6 321.2L641.9 333.5L642.4 333.9L657.9 344.1ZM1368.5 333.5L1373.5 336.2L1389.1 340.5L1404.6 341.0L1420.2 337.9L1429.6 333.5L1435.7 330.4L1447.0 321.2L1451.3 314.6L1455.2 308.9L1458.5 296.7L1457.1 284.4L1451.3 274.0L1450.4 272.2L1438.1 259.9L1435.7 258.2L1420.2 250.8L1404.6 248.3L1389.1 248.7L1373.5 252.3L1360.3 259.9L1358.0 261.6L1347.2 272.2L1342.4 283.7L1342.0 284.4L1340.3 296.7L1342.4 303.6L1343.5 308.9L1351.0 321.2L1358.0 327.3ZM971.0 308.9L984.6 312.6L1000.2 313.6L1015.7 311.7L1024.0 308.9L1031.3 306.9L1046.8 298.4L1049.1 296.7L1061.4 284.4L1062.4 282.6L1069.0 272.2L1072.1 259.9L1071.8 247.6L1068.1 235.4L1062.4 226.9L1060.0 223.1L1046.8 211.3L1046.2 210.8L1031.3 202.4L1016.8 198.6L1015.7 198.2L1000.2 196.1L984.6 197.2L979.3 198.6L969.1 200.7L953.5 207.7L948.9 210.8L937.9 220.4L935.3 223.1L927.3 235.4L924.0 247.6L923.8 259.9L926.5 272.2L933.6 284.4L937.9 289.1L946.1 296.7L953.5 301.8L969.1 308.5ZM381.6 272.2L393.5 273.7L409.0 272.5L410.3 272.2L424.6 269.1L440.2 261.8L443.0 259.9L455.7 249.0L457.0 247.6L465.5 235.4L469.1 223.1L469.5 210.8L467.0 198.6L460.2 186.3L455.7 181.4L448.1 174.1L440.2 168.4L424.9 161.8L424.6 161.7L409.0 157.3L393.5 156.3L377.9 158.1L366.6 161.8L362.4 163.0L346.8 171.1L342.9 174.1L331.4 186.3L331.3 186.5L323.9 198.6L321.0 210.8L321.5 223.1L325.5 235.4L331.3 243.8L333.9 247.6L346.8 259.0L348.2 259.9L362.4 267.7L377.9 271.8Z"/>
<path stroke="#4269fe" d="M921.0 1056.8L922.4 1057.4L937.9 1061.1L953.5 1061.4L969.1 1058.6L973.7 1056.8L984.6 1052.9L997.3 1044.6L1000.2 1042.0L1009.2 1032.3L1014.9 1020.0L1015.7 1015.0L1017.3 1007.8L1015.7 995.7L1015.7 995.5L1011.2 983.3L1000.9 971.0L1000.2 970.4L984.6 959.7L982.1 958.7L969.1 953.5L953.5 951.0L937.9 951.3L922.4 954.6L913.0 958.7L906.8 961.5L894.0 971.0L891.3 974.0L883.7 983.3L878.8 995.5L877.6 1007.8L879.6 1020.0L885.8 1032.3L891.3 1038.5L897.6 1044.6L906.8 1051.1ZM1419.3 897.4L1420.2 897.9L1435.7 902.4L1451.3 903.4L1466.8 901.6L1478.9 897.4L1482.4 896.3L1498.0 887.3L1500.6 885.2L1511.5 872.9L1513.5 868.5L1517.5 860.7L1519.6 848.4L1517.8 836.1L1513.5 827.5L1511.9 823.9L1501.6 811.6L1498.0 808.6L1482.4 799.7L1481.2 799.4L1466.8 794.4L1451.3 792.6L1435.7 793.6L1420.2 798.0L1417.4 799.4L1404.6 805.7L1396.9 811.6L1389.1 820.7L1386.5 823.9L1380.6 836.1L1379.0 848.4L1380.8 860.7L1387.0 872.9L1389.1 875.4L1397.8 885.2L1404.6 890.3ZM367.6 885.2L377.9 889.7L393.5 892.1L409.0 890.7L423.6 885.2L424.6 884.8L440.2 873.3L440.5 872.9L449.0 860.7L451.3 848.4L449.3 836.1L441.4 823.9L440.2 822.7L425.4 811.6L424.6 811.2L409.0 805.3L393.5 804.0L377.9 806.2L365.9 811.6L362.4 813.3L349.5 823.9L346.8 828.3L341.8 836.1L339.5 848.4L342.1 860.7L346.8 867.7L350.2 872.9L362.4 882.8ZM823.0 689.0L829.1 691.7L844.6 694.3L860.2 693.0L871.1 689.0L875.7 687.4L890.7 676.7L891.3 676.0L899.9 664.5L902.8 652.2L901.4 640.0L894.6 627.7L891.3 624.4L880.0 615.4L875.7 612.9L860.2 607.5L844.6 606.4L829.1 608.6L814.5 615.4L813.5 615.9L799.9 627.7L797.9 631.4L792.9 640.0L791.2 652.2L794.6 664.5L797.9 669.2L803.2 676.7L813.5 684.9ZM276.8 505.1L284.6 507.0L300.2 507.6L314.2 505.1L315.7 504.9L331.3 499.8L342.3 492.8L346.8 489.3L355.4 480.6L361.8 468.3L362.4 465.7L365.0 456.1L364.1 443.8L362.4 439.5L359.8 431.5L350.8 419.3L346.8 415.7L334.0 407.0L331.3 405.4L315.7 399.6L300.2 397.4L284.6 397.9L269.0 401.1L256.4 407.0L253.5 408.5L239.7 419.3L237.9 421.4L230.2 431.5L225.9 443.8L225.3 456.1L227.9 468.3L235.0 480.6L237.9 483.7L247.8 492.8L253.5 496.7L269.0 503.5ZM1179.3 492.8L1186.8 495.4L1202.4 496.4L1218.0 493.0L1218.4 492.8L1233.5 486.2L1240.7 480.6L1249.1 469.2L1249.7 468.3L1254.0 456.1L1253.0 443.8L1249.1 436.5L1246.8 431.5L1233.7 419.3L1233.5 419.2L1218.0 411.4L1202.4 408.9L1186.8 409.6L1171.3 414.2L1163.0 419.3L1155.7 425.1L1149.5 431.5L1143.8 443.8L1143.0 456.1L1146.4 468.3L1155.7 479.8L1156.5 480.6L1171.3 490.5ZM672.6 345.7L673.5 346.1L689.1 349.3L704.6 349.3L720.2 345.9L720.6 345.7L735.7 340.0L745.5 333.5L751.3 328.2L757.8 321.2L764.0 308.9L766.2 296.7L765.3 284.4L760.8 272.2L751.3 260.5L750.8 259.9L735.7 248.9L732.9 247.6L720.2 242.2L704.6 239.3L689.1 239.3L673.5 242.0L660.3 247.6L657.9 248.6L642.4 259.9L642.4 259.9L632.4 272.2L628.0 284.4L627.1 296.7L629.2 308.9L635.4 321.2L642.4 328.7L647.7 333.5L657.9 340.3ZM1376.1 333.5L1389.1 337.6L1404.6 338.2L1420.2 334.5L1422.4 333.5L1435.7 327.0L1442.7 321.2L1450.9 308.9L1451.3 307.3L1454.7 296.7L1453.0 284.4L1451.3 281.4L1446.9 272.2L1435.7 261.9L1432.4 259.9L1420.2 253.6L1404.6 250.6L1389.1 251.1L1373.5 255.4L1365.7 259.9L1358.0 265.4L1351.1 272.2L1345.1 284.4L1343.9 296.7L1346.7 308.9L1355.7 321.2L1358.0 323.2L1373.5 332.7ZM990.1 308.9L1000.2 309.7L1005.4 308.9L1015.7 307.9L1031.3 303.2L1042.5 296.7L1046.8 293.6L1056.6 284.4L1062.4 274.5L1063.9 272.2L1067.6 259.9L1067.3 247.6L1062.8 235.4L1062.4 234.8L1054.9 223.1L1046.8 215.8L1039.3 210.8L1031.3 206.3L1015.7 201.4L1000.2 199.8L984.6 200.6L969.1 204.3L956.1 210.8L953.5 212.3L940.6 223.1L937.9 226.8L931.9 235.4L928.0 247.6L927.7 259.9L931.0 272.2L937.9 282.7L939.1 284.4L952.8 296.7L953.5 297.2L969.1 305.1L984.6 308.6ZM355.2 259.9L362.4 263.8L377.9 268.7L393.5 270.3L409.0 269.4L424.6 265.5L435.7 259.9L440.2 257.4L451.9 247.6L455.7 242.4L460.8 235.4L465.1 223.1L465.6 210.8L462.5 198.6L455.7 187.9L454.7 186.3L441.6 174.1L440.2 173.1L424.6 165.0L410.7 161.8L409.0 161.3L393.5 160.1L380.9 161.8L377.9 162.1L362.4 166.6L349.5 174.1L346.8 176.0L335.9 186.3L331.3 194.6L328.8 198.6L325.4 210.8L326.0 223.1L330.7 235.4L331.3 236.1L339.0 247.6L346.8 254.6Z"/>
<path stroke="#327cfc" d="M934.9 1056.8L937.9 1057.6L953.5 1057.9L959.3 1056.8L969.1 1055.3L984.6 1049.2L991.7 1044.6L1000.2 1037.1L1004.6 1032.3L1011.3 1020.0L1013.5 1007.8L1012.2 995.5L1006.9 983.3L1000.2 975.4L995.8 971.0L984.6 963.2L973.3 958.7L969.1 957.1L953.5 954.1L937.9 954.5L922.4 958.3L921.3 958.7L906.8 965.3L899.1 971.0L891.3 979.5L888.2 983.3L882.5 995.5L881.2 1007.8L883.5 1020.0L890.7 1032.3L891.3 1033.0L903.2 1044.6L906.8 1047.1L922.4 1054.3ZM1430.8 897.4L1435.7 898.9L1451.3 900.1L1466.8 898.0L1468.4 897.4L1482.4 893.0L1495.0 885.2L1498.0 882.8L1507.3 872.9L1513.0 860.7L1513.5 857.5L1515.3 848.4L1513.5 838.1L1513.3 836.1L1507.9 823.9L1498.0 813.2L1496.0 811.6L1482.4 803.0L1471.1 799.4L1466.8 797.9L1451.3 795.8L1435.7 797.0L1427.8 799.4L1420.2 801.4L1404.6 809.9L1402.4 811.6L1391.0 823.9L1389.1 827.9L1384.8 836.1L1382.9 848.4L1385.1 860.7L1389.1 868.1L1391.5 872.9L1403.5 885.2L1404.6 886.0L1420.2 894.7ZM374.3 885.2L377.9 886.8L393.5 889.6L409.0 888.0L416.4 885.2L424.6 882.1L436.9 872.9L440.2 868.5L445.6 860.7L448.3 848.4L446.0 836.1L440.2 827.5L437.6 823.9L424.6 813.9L418.6 811.6L409.0 807.9L393.5 806.4L377.9 809.1L372.2 811.6L362.4 816.2L353.1 823.9L346.8 834.2L345.6 836.1L342.9 848.4L346.0 860.7L346.8 862.0L353.9 872.9L362.4 879.8ZM831.3 689.0L844.6 691.6L860.2 690.1L863.1 689.0L875.7 684.7L886.9 676.7L891.3 671.5L896.5 664.5L899.9 652.2L898.2 640.0L891.3 628.9L890.5 627.7L875.7 616.1L874.2 615.4L860.2 610.0L844.6 608.7L829.1 611.3L820.2 615.4L813.5 618.9L803.4 627.7L797.9 637.7L796.6 640.0L794.7 652.2L797.9 662.7L798.4 664.5L807.2 676.7L813.5 681.7L829.1 688.7ZM254.0 492.8L269.0 500.4L284.6 503.8L300.2 504.3L315.7 502.0L331.3 496.0L336.4 492.8L346.8 484.5L350.7 480.6L358.2 468.3L360.9 456.1L360.2 443.8L355.8 431.5L346.8 420.6L345.6 419.3L331.3 409.1L326.1 407.0L315.7 402.9L300.2 400.3L284.6 400.8L269.0 404.7L264.0 407.0L253.5 412.2L244.5 419.3L237.9 427.3L234.7 431.5L229.7 443.8L228.9 456.1L232.0 468.3L237.9 477.7L239.8 480.6L253.5 492.6ZM1194.4 492.8L1202.4 493.4L1205.1 492.8L1218.0 490.7L1233.5 482.8L1236.4 480.6L1246.6 468.3L1249.1 459.7L1250.4 456.1L1249.1 443.8L1249.1 443.7L1243.5 431.5L1233.5 422.3L1228.5 419.3L1218.0 414.0L1202.4 411.1L1186.8 412.0L1171.3 417.3L1168.0 419.3L1155.7 429.2L1153.5 431.5L1146.8 443.8L1145.8 456.1L1149.8 468.3L1155.7 475.6L1160.5 480.6L1171.3 487.8L1186.8 492.5ZM688.9 345.7L689.1 345.7L695.8 345.7L704.6 345.7L720.2 342.9L735.7 336.1L739.7 333.5L751.3 323.0L752.9 321.2L760.2 308.9L762.7 296.7L761.7 284.4L756.5 272.2L751.3 265.8L745.9 259.9L735.7 252.5L724.6 247.6L720.2 245.7L704.6 242.4L689.1 242.3L673.5 245.5L668.6 247.6L657.9 252.2L647.3 259.9L642.4 265.2L636.7 272.2L631.5 284.4L630.5 296.7L633.0 308.9L640.2 321.2L642.4 323.5L653.5 333.5L657.9 336.4L673.5 343.1ZM1385.1 333.5L1389.1 334.7L1404.6 335.4L1412.4 333.5L1420.2 331.9L1435.7 323.5L1438.5 321.2L1448.0 308.9L1451.0 296.7L1449.7 284.4L1443.3 272.2L1435.7 265.2L1426.9 259.9L1420.2 256.4L1404.6 252.9L1389.1 253.5L1373.5 258.5L1371.0 259.9L1358.0 269.3L1355.1 272.2L1348.0 284.4L1346.6 296.7L1349.9 308.9L1358.0 319.1L1359.9 321.2L1373.5 330.2ZM959.3 296.7L969.1 301.8L984.6 305.9L1000.2 306.8L1015.7 305.0L1031.3 299.5L1036.2 296.7L1046.8 289.2L1051.9 284.4L1059.8 272.2L1062.4 262.3L1063.2 259.9L1062.8 247.6L1062.4 246.5L1059.0 235.4L1049.9 223.1L1046.8 220.3L1032.5 210.8L1031.3 210.2L1015.7 204.5L1000.2 202.5L984.6 203.5L969.1 207.8L963.0 210.8L953.5 216.2L945.3 223.1L937.9 233.4L936.5 235.4L931.9 247.6L931.6 259.9L935.4 272.2L937.9 276.0L943.5 284.4L953.5 293.2ZM362.3 259.9L362.4 259.9L377.9 265.6L393.5 267.5L409.0 266.4L424.6 261.9L428.5 259.9L440.2 253.4L447.0 247.6L455.7 235.8L456.1 235.4L461.1 223.1L461.6 210.8L458.1 198.6L455.7 194.9L450.4 186.3L440.2 177.1L435.3 174.1L424.6 168.4L409.0 164.2L393.5 163.2L377.9 164.9L362.4 170.1L355.6 174.1L346.8 180.3L340.5 186.3L333.1 198.6L331.3 205.9L329.8 210.8L330.4 223.1L331.3 225.2L334.6 235.4L344.1 247.6L346.8 250.1Z"/>
<path stroke="#2d8cf3" d="M908.9 1044.6L922.4 1051.4L937.9 1054.8L953.5 1055.2L969.1 1052.5L984.6 1045.6L986.2 1044.6L1000.1 1032.3L1000.2 1032.2L1007.7 1020.0L1010.2 1007.8L1008.7 995.5L1002.7 983.3L1000.2 980.3L990.8 971.0L984.6 966.7L969.1 960.1L961.0 958.7L953.5 957.2L937.9 957.6L933.5 958.7L922.4 961.2L906.8 969.0L904.1 971.0L892.5 983.3L891.3 985.7L886.3 995.5L884.7 1007.8L887.4 1020.0L891.3 1026.6L894.7 1032.3L906.8 1043.3ZM383.8 885.2L393.5 887.0L409.0 885.2L409.2 885.2L424.6 879.5L433.3 872.9L440.2 863.7L442.3 860.7L445.3 848.4L442.7 836.1L440.2 832.4L434.2 823.9L424.6 816.6L411.7 811.6L409.0 810.6L393.5 808.9L379.2 811.6L377.9 811.8L362.4 819.2L356.7 823.9L348.5 836.1L346.8 845.9L346.3 848.4L346.8 850.6L348.8 860.7L357.6 872.9L362.4 876.8L377.9 884.3ZM1408.9 885.2L1420.2 891.6L1435.7 896.0L1451.3 897.0L1466.8 895.2L1482.4 889.7L1489.7 885.2L1498.0 878.4L1503.2 872.9L1509.7 860.7L1511.7 848.4L1510.0 836.1L1503.8 823.9L1498.0 817.6L1490.9 811.6L1482.4 806.2L1466.8 800.8L1453.9 799.4L1451.3 799.0L1446.9 799.4L1435.7 800.1L1420.2 804.4L1407.7 811.6L1404.6 814.0L1394.8 823.9L1389.1 835.9L1389.0 836.1L1386.8 848.4L1389.1 859.7L1389.2 860.7L1395.4 872.9L1404.6 882.1ZM811.1 676.7L813.5 678.6L829.1 686.5L844.6 688.9L860.2 687.7L875.7 682.0L883.1 676.7L891.3 666.9L893.1 664.5L896.9 652.2L895.0 640.0L891.3 634.0L887.3 627.7L875.7 618.6L867.8 615.4L860.2 612.5L844.6 611.0L829.1 614.0L826.0 615.4L813.5 621.9L806.8 627.7L799.6 640.0L798.0 652.2L801.1 664.5ZM260.1 492.8L269.0 497.3L284.6 501.2L300.2 501.7L315.7 499.1L330.3 492.8L331.3 492.4L346.1 480.6L346.8 479.6L354.5 468.3L357.6 456.1L356.8 443.8L351.8 431.5L346.8 425.5L340.9 419.3L331.3 412.4L317.9 407.0L315.7 406.2L300.2 403.2L284.6 403.8L272.8 407.0L269.0 408.0L253.5 416.0L249.3 419.3L238.9 431.5L237.9 433.8L233.5 443.8L232.6 456.1L236.1 468.3L237.9 471.3L243.9 480.6L253.5 488.9ZM1164.5 480.6L1171.3 485.2L1186.8 490.4L1202.4 491.3L1218.0 488.4L1232.1 480.6L1233.5 479.5L1243.7 468.3L1247.5 456.1L1246.6 443.8L1240.1 431.5L1233.5 425.4L1223.2 419.3L1218.0 416.6L1202.4 413.3L1186.8 414.3L1173.5 419.3L1171.3 420.2L1157.0 431.5L1155.7 433.7L1149.8 443.8L1148.7 456.1L1153.2 468.3L1155.7 471.5ZM659.3 333.5L673.5 340.2L689.1 343.2L704.6 343.2L720.2 340.0L733.8 333.5L735.7 332.4L748.7 321.2L751.3 317.2L756.4 308.9L759.3 296.7L758.0 284.4L752.1 272.2L751.3 271.1L741.0 259.9L735.7 256.0L720.2 248.9L714.1 247.6L704.6 245.4L689.1 245.4L679.0 247.6L673.5 248.7L657.9 255.7L652.2 259.9L642.4 270.4L641.0 272.2L635.1 284.4L633.9 296.7L636.7 308.9L642.4 317.9L644.5 321.2L657.9 332.7ZM1363.7 321.2L1373.5 327.7L1389.1 332.4L1404.6 332.9L1420.2 329.6L1434.4 321.2L1435.7 320.0L1445.2 308.9L1448.5 296.7L1447.1 284.4L1439.8 272.2L1435.7 268.4L1421.5 259.9L1420.2 259.2L1404.6 255.2L1389.1 255.9L1377.3 259.9L1373.5 261.2L1358.8 272.2L1358.0 273.3L1350.9 284.4L1349.3 296.7L1353.0 308.9L1358.0 315.1ZM965.7 296.7L969.1 298.4L984.6 303.1L1000.2 304.2L1015.7 302.1L1029.6 296.7L1031.3 296.0L1046.8 284.7L1047.2 284.4L1056.2 272.2L1059.8 259.9L1059.5 247.6L1055.2 235.4L1046.8 224.9L1045.1 223.1L1031.3 213.4L1024.6 210.8L1015.7 207.5L1000.2 205.3L984.6 206.4L970.3 210.8L969.1 211.2L953.5 220.2L950.0 223.1L940.4 235.4L937.9 242.3L935.9 247.6L935.5 259.9L937.9 267.1L939.4 272.2L947.9 284.4L953.5 289.3ZM370.8 259.9L377.9 262.5L393.5 264.6L409.0 263.4L420.3 259.9L424.6 258.6L440.2 249.3L442.2 247.6L452.4 235.4L455.7 226.3L457.0 223.1L457.7 210.8L455.7 204.5L454.1 198.6L446.0 186.3L440.2 181.1L429.1 174.1L424.6 171.7L409.0 166.9L393.5 165.8L377.9 167.8L362.4 173.7L361.8 174.1L346.8 184.7L345.1 186.3L336.6 198.6L333.3 210.8L333.9 223.1L338.4 235.4L346.8 245.6L348.9 247.6L362.4 256.8Z"/>
<path stroke="#259be8" d="M914.7 1044.6L922.4 1048.5L937.9 1052.3L953.5 1052.7L969.1 1049.7L980.2 1044.6L984.6 1042.2L996.3 1032.3L1000.2 1026.3L1004.0 1020.0L1006.8 1007.8L1005.2 995.5L1000.2 986.0L998.7 983.3L985.8 971.0L984.6 970.2L969.1 962.8L953.5 959.9L937.9 960.3L922.4 964.0L909.3 971.0L906.8 972.7L896.1 983.3L891.3 993.1L890.0 995.5L888.3 1007.8L891.3 1019.9L891.3 1020.0L898.6 1032.3L906.8 1039.8ZM1414.3 885.2L1420.2 888.6L1435.7 893.5L1451.3 894.6L1466.8 892.6L1482.4 886.5L1484.4 885.2L1498.0 874.0L1499.0 872.9L1506.4 860.7L1508.6 848.4L1506.7 836.1L1499.7 823.9L1498.0 822.0L1485.7 811.6L1482.4 809.5L1466.8 803.4L1451.3 801.4L1435.7 802.6L1420.2 807.4L1412.9 811.6L1404.6 817.9L1398.7 823.9L1392.1 836.1L1390.3 848.4L1392.4 860.7L1399.3 872.9L1404.6 878.2ZM361.3 872.9L362.4 873.8L377.9 882.2L393.5 884.7L409.0 883.3L424.6 876.8L429.8 872.9L439.2 860.7L440.2 856.6L442.4 848.4L440.2 839.1L439.6 836.1L430.7 823.9L424.6 819.2L409.0 812.8L396.0 811.6L393.5 811.3L391.9 811.6L377.9 813.9L362.4 822.2L360.3 823.9L351.1 836.1L348.8 848.4L351.4 860.7ZM815.1 676.7L829.1 684.4L844.6 687.1L860.2 685.8L875.7 679.3L879.4 676.7L890.1 664.5L891.3 660.4L894.0 652.2L891.9 640.0L891.3 639.0L884.0 627.7L875.7 621.2L861.4 615.4L860.2 615.0L844.6 613.3L834.3 615.4L829.1 616.4L813.5 624.8L810.2 627.7L802.1 640.0L800.4 652.2L803.8 664.5L813.5 675.5ZM266.3 492.8L269.0 494.2L284.6 498.6L300.2 499.1L315.7 496.3L323.6 492.8L331.3 489.2L342.1 480.6L346.8 474.2L350.8 468.3L354.4 456.1L353.5 443.8L347.7 431.5L346.8 430.4L336.3 419.3L331.3 415.7L315.7 408.9L304.6 407.0L300.2 406.2L284.6 406.8L283.9 407.0L269.0 410.7L254.1 419.3L253.5 419.7L242.4 431.5L237.9 442.2L237.2 443.8L236.2 456.1L237.9 461.7L239.7 468.3L248.1 480.6L253.5 485.3ZM1168.5 480.6L1171.3 482.5L1186.8 488.4L1202.4 489.4L1218.0 486.2L1228.0 480.6L1233.5 476.4L1240.8 468.3L1245.1 456.1L1244.1 443.8L1236.8 431.5L1233.5 428.5L1218.0 419.3L1218.0 419.2L1202.4 415.5L1186.8 416.6L1179.7 419.3L1171.3 422.6L1160.1 431.5L1155.7 438.7L1152.8 443.8L1151.5 456.1L1155.7 466.6L1156.4 468.3ZM665.4 333.5L673.5 337.3L689.1 340.7L704.6 340.6L720.2 337.1L727.7 333.5L735.7 329.0L744.7 321.2L751.3 311.0L752.6 308.9L755.8 296.7L754.4 284.4L751.3 278.0L748.4 272.2L736.1 259.9L735.7 259.6L720.2 251.6L704.6 248.3L689.1 248.2L673.5 251.4L657.9 259.3L657.1 259.9L644.7 272.2L642.4 277.0L638.7 284.4L637.3 296.7L640.5 308.9L642.4 311.9L648.4 321.2L657.9 329.3ZM1367.5 321.2L1373.5 325.2L1389.1 330.4L1404.6 331.0L1420.2 327.3L1430.6 321.2L1435.7 316.6L1442.3 308.9L1446.1 296.7L1444.5 284.4L1436.2 272.2L1435.7 271.7L1420.2 261.5L1413.5 259.9L1404.6 257.5L1389.1 258.2L1384.2 259.9L1373.5 263.5L1362.0 272.2L1358.0 277.9L1353.8 284.4L1352.0 296.7L1356.2 308.9L1358.0 311.1ZM973.2 296.7L984.6 300.3L1000.2 301.5L1015.7 299.2L1022.1 296.7L1031.3 292.9L1043.0 284.4L1046.8 279.9L1052.6 272.2L1056.6 259.9L1056.3 247.6L1051.5 235.4L1046.8 229.5L1040.7 223.1L1031.3 216.5L1016.5 210.8L1015.7 210.6L1000.2 208.1L984.6 209.3L979.7 210.8L969.1 214.0L954.6 223.1L953.5 224.1L943.8 235.4L939.4 247.6L939.1 259.9L942.8 272.2L952.3 284.4L953.5 285.4L969.1 295.4ZM380.9 259.9L393.5 261.8L409.0 260.4L410.7 259.9L424.6 255.7L437.5 247.6L440.2 245.3L448.9 235.4L453.7 223.1L454.2 210.8L450.8 198.6L441.7 186.3L440.2 185.0L424.6 174.8L422.3 174.1L409.0 169.7L393.5 168.4L377.9 170.6L369.0 174.1L362.4 176.8L349.4 186.3L346.8 189.4L340.1 198.6L336.5 210.8L337.0 223.1L342.1 235.4L346.8 241.0L353.4 247.6L362.4 253.7L377.9 259.5Z"/>
<path stroke="#1ca9df" d="M920.5 1044.6L922.4 1045.5L937.9 1049.8L953.5 1050.2L969.1 1046.9L974.1 1044.6L984.6 1039.0L992.4 1032.3L1000.2 1020.4L1000.4 1020.0L1003.5 1007.8L1001.7 995.5L1000.2 992.6L995.2 983.3L984.6 973.5L980.5 971.0L969.1 965.4L953.5 962.3L937.9 962.6L922.4 966.7L914.4 971.0L906.8 976.2L899.7 983.3L893.3 995.5L891.7 1007.8L894.4 1020.0L902.5 1032.3L906.8 1036.2ZM1419.6 885.2L1420.2 885.5L1435.7 890.9L1451.3 892.2L1466.8 890.0L1478.5 885.2L1482.4 883.3L1495.2 872.9L1498.0 868.9L1503.0 860.7L1505.5 848.4L1503.3 836.1L1498.0 827.0L1495.9 823.9L1482.4 812.7L1480.2 811.6L1466.8 806.0L1451.3 803.8L1435.7 805.1L1420.2 810.4L1418.1 811.6L1404.6 821.8L1402.6 823.9L1395.2 836.1L1393.2 848.4L1395.5 860.7L1403.3 872.9L1404.6 874.2ZM365.0 872.9L377.9 880.1L393.5 882.9L409.0 881.3L424.6 874.1L426.2 872.9L436.7 860.7L439.6 848.4L437.1 836.1L427.3 823.9L424.6 821.8L409.0 814.7L393.5 813.2L377.9 815.9L363.9 823.9L362.4 825.3L353.7 836.1L351.1 848.4L354.1 860.7L362.4 870.7ZM819.0 676.7L829.1 682.2L844.6 685.3L860.2 683.8L875.6 676.7L875.7 676.7L887.5 664.5L891.1 652.2L889.3 640.0L880.8 627.7L875.7 623.7L860.2 617.0L844.6 615.6L829.1 618.4L813.6 627.7L813.5 627.8L804.6 640.0L802.7 652.2L806.5 664.5L813.5 672.4ZM274.0 492.8L284.6 495.9L300.2 496.6L315.7 493.4L317.0 492.8L331.3 486.0L338.1 480.6L346.8 468.9L347.2 468.3L351.1 456.1L350.1 443.8L346.8 437.0L344.2 431.5L331.6 419.3L331.3 419.0L315.7 411.4L300.2 408.6L284.6 409.2L269.0 413.5L258.9 419.3L253.5 423.5L245.9 431.5L240.3 443.8L239.5 456.1L242.9 468.3L252.2 480.6L253.5 481.7L269.0 491.4ZM1172.7 480.6L1186.8 486.4L1202.4 487.5L1218.0 483.9L1223.9 480.6L1233.5 473.2L1238.0 468.3L1242.7 456.1L1241.5 443.8L1233.5 431.5L1233.5 431.5L1218.0 421.3L1209.0 419.3L1202.4 417.7L1186.8 418.9L1185.9 419.3L1171.3 425.0L1163.1 431.5L1155.7 443.8L1155.7 443.8L1154.3 456.1L1155.7 459.5L1159.0 468.3L1171.3 479.9ZM671.5 333.5L673.5 334.4L689.1 338.2L704.6 338.1L720.2 334.2L721.7 333.5L735.7 325.6L740.8 321.2L749.3 308.9L751.3 300.7L752.4 296.7L751.3 287.8L750.9 284.4L744.9 272.2L735.7 263.1L730.9 259.9L720.2 254.2L704.6 250.6L689.1 250.6L673.5 254.1L662.2 259.9L657.9 262.7L648.3 272.2L642.4 284.1L642.2 284.4L640.7 296.7L642.4 302.7L643.9 308.9L652.4 321.2L657.9 326.0ZM1371.3 321.2L1373.5 322.7L1389.1 328.5L1404.6 329.1L1420.2 325.1L1426.7 321.2L1435.7 313.3L1439.4 308.9L1443.6 296.7L1441.8 284.4L1435.7 275.5L1433.0 272.2L1420.2 263.7L1404.8 259.9L1404.6 259.8L1403.6 259.9L1389.1 260.4L1373.5 265.9L1365.1 272.2L1358.0 282.4L1356.7 284.4L1354.7 296.7L1358.0 305.6L1359.1 308.9ZM981.8 296.7L984.6 297.6L1000.2 298.9L1013.5 296.7L1015.7 296.3L1031.3 289.9L1038.8 284.4L1046.8 275.1L1049.0 272.2L1053.5 259.9L1053.1 247.6L1047.8 235.4L1046.8 234.2L1036.3 223.1L1031.3 219.6L1015.7 213.1L1000.2 210.9L984.6 212.0L969.1 216.9L959.1 223.1L953.5 228.2L947.3 235.4L942.3 247.6L942.0 259.9L946.1 272.2L953.5 281.3L956.6 284.4L969.1 292.6ZM357.9 247.6L362.4 250.7L377.9 257.1L393.5 259.2L409.0 258.0L424.6 252.9L433.0 247.6L440.2 241.2L445.3 235.4L450.7 223.1L451.3 210.8L447.5 198.6L440.2 189.2L437.5 186.3L424.6 177.6L414.1 174.1L409.0 172.4L393.5 171.0L377.9 173.4L376.3 174.1L362.4 179.8L353.5 186.3L346.8 194.2L343.6 198.6L339.6 210.8L340.2 223.1L345.9 235.4L346.8 236.5Z"/>
<path stroke="#12b1d6" d="M928.3 1044.6L937.9 1047.3L953.5 1047.8L967.3 1044.6L969.1 1044.2L984.6 1035.7L988.6 1032.3L997.3 1020.0L1000.2 1008.0L1000.2 1007.8L1000.2 1007.5L998.6 995.5L991.6 983.3L984.6 976.8L975.1 971.0L969.1 968.1L953.5 964.6L937.9 965.0L922.4 969.5L919.6 971.0L906.8 979.8L903.3 983.3L896.2 995.5L894.6 1007.8L897.5 1020.0L906.4 1032.3L906.8 1032.7L922.4 1042.8ZM1426.5 885.2L1435.7 888.4L1451.3 889.9L1466.8 887.4L1472.2 885.2L1482.4 880.3L1491.5 872.9L1498.0 863.5L1499.7 860.7L1502.4 848.4L1500.0 836.1L1498.0 832.6L1492.3 823.9L1482.4 815.7L1474.1 811.6L1466.8 808.6L1451.3 806.1L1435.7 807.5L1424.4 811.6L1420.2 813.3L1406.3 823.9L1404.6 826.2L1398.4 836.1L1396.2 848.4L1398.7 860.7L1404.6 869.7L1407.1 872.9L1420.2 882.7ZM368.7 872.9L377.9 878.1L393.5 881.1L409.0 879.4L422.4 872.9L424.6 871.4L434.2 860.7L437.4 848.4L434.6 836.1L424.6 824.5L423.7 823.9L409.0 816.7L393.5 814.9L377.9 818.0L367.5 823.9L362.4 828.5L356.2 836.1L353.4 848.4L356.7 860.7L362.4 867.5ZM822.9 676.7L829.1 680.1L844.6 683.4L860.2 681.8L871.2 676.7L875.7 674.0L884.9 664.5L888.9 652.2L886.9 640.0L877.5 627.7L875.7 626.3L860.2 618.9L844.6 617.3L829.1 620.5L817.0 627.7L813.5 631.3L807.1 640.0L805.0 652.2L809.2 664.5L813.5 669.3ZM283.0 492.8L284.6 493.3L300.2 494.0L305.8 492.8L315.7 490.9L331.3 482.8L334.1 480.6L344.0 468.3L346.8 459.2L347.8 456.1L346.8 444.8L346.7 443.8L340.8 431.5L331.3 422.3L326.5 419.3L315.7 414.0L300.2 410.9L284.6 411.5L269.0 416.2L263.7 419.3L253.5 427.2L249.4 431.5L243.3 443.8L242.3 456.1L246.1 468.3L253.5 477.8L256.3 480.6L269.0 488.7ZM1177.6 480.6L1186.8 484.4L1202.4 485.6L1218.0 481.6L1219.8 480.6L1233.5 470.0L1235.1 468.3L1240.3 456.1L1239.0 443.8L1233.5 435.4L1230.4 431.5L1218.0 423.4L1202.4 419.8L1186.8 420.8L1171.3 427.5L1166.2 431.5L1158.1 443.8L1156.9 456.1L1161.7 468.3L1171.3 477.4ZM680.3 333.5L689.1 335.7L704.6 335.6L712.9 333.5L720.2 331.5L735.7 322.2L736.9 321.2L746.2 308.9L749.4 296.7L748.0 284.4L741.4 272.2L735.7 266.6L725.8 259.9L720.2 256.9L704.6 252.9L689.1 252.9L673.5 256.7L667.4 259.9L657.9 266.1L651.8 272.2L645.2 284.4L643.8 296.7L647.0 308.9L656.3 321.2L657.9 322.6L673.5 331.7ZM1375.5 321.2L1389.1 326.5L1404.6 327.2L1420.2 322.8L1422.9 321.2L1435.7 309.9L1436.5 308.9L1441.2 296.7L1439.2 284.4L1435.7 279.3L1429.7 272.2L1420.2 265.8L1404.6 261.6L1389.1 262.3L1373.5 268.3L1368.3 272.2L1359.3 284.4L1358.0 293.5L1357.4 296.7L1358.0 298.1L1361.7 308.9L1373.5 320.2ZM960.8 284.4L969.1 289.8L984.6 295.1L1000.2 296.3L1015.7 293.9L1031.3 286.9L1034.6 284.4L1045.6 272.2L1046.8 269.0L1050.3 259.9L1049.9 247.6L1046.8 240.7L1044.4 235.4L1031.9 223.1L1031.3 222.7L1015.7 215.5L1000.2 213.1L984.6 214.3L969.1 219.7L963.6 223.1L953.5 232.2L950.8 235.4L945.3 247.6L945.0 259.9L949.5 272.2L953.5 277.1ZM362.5 247.6L377.9 254.6L393.5 256.9L409.0 255.6L424.6 250.0L428.4 247.6L440.2 237.2L441.8 235.4L447.7 223.1L448.3 210.8L444.1 198.6L440.2 193.5L433.3 186.3L424.6 180.4L409.0 175.0L398.5 174.1L393.5 173.6L390.5 174.1L377.9 175.9L362.4 182.8L357.6 186.3L347.1 198.6L346.8 199.4L342.7 210.8L343.4 223.1L346.8 230.3L349.3 235.4L362.4 247.6Z"/>
<path stroke="#02bac3" d="M937.0 1044.6L937.9 1044.8L953.5 1045.3L956.7 1044.6L969.1 1041.7L984.6 1032.5L984.8 1032.3L994.3 1020.0L997.4 1007.8L995.6 995.5L988.1 983.3L984.6 980.1L969.6 971.0L969.1 970.7L953.5 966.9L937.9 967.4L926.0 971.0L922.4 972.2L907.0 983.3L906.8 983.4L899.2 995.5L897.4 1007.8L900.6 1020.0L906.8 1028.6L910.3 1032.3L922.4 1040.2ZM1433.7 885.2L1435.7 885.9L1451.3 887.5L1464.7 885.2L1466.8 884.8L1482.4 877.3L1487.9 872.9L1496.5 860.7L1498.0 854.3L1499.3 848.4L1498.0 841.8L1496.9 836.1L1488.7 823.9L1482.4 818.7L1467.9 811.6L1466.8 811.2L1451.3 808.5L1435.7 810.0L1431.3 811.6L1420.2 816.1L1410.0 823.9L1404.6 831.2L1401.5 836.1L1399.1 848.4L1401.9 860.7L1404.6 864.9L1410.8 872.9L1420.2 879.9ZM372.4 872.9L377.9 876.0L393.5 879.3L409.0 877.4L418.4 872.9L424.6 868.6L431.7 860.7L435.2 848.4L432.2 836.1L424.6 827.4L419.8 823.9L409.0 818.6L393.5 816.7L377.9 820.0L371.1 823.9L362.4 831.7L358.8 836.1L355.7 848.4L359.3 860.7L362.4 864.4ZM826.8 676.7L829.1 678.0L844.6 681.6L860.2 679.8L866.9 676.7L875.7 671.3L882.3 664.5L886.7 652.2L884.5 640.0L875.7 629.0L874.0 627.7L860.2 620.8L844.6 619.1L829.1 622.5L820.4 627.7L813.5 634.7L809.6 640.0L807.4 652.2L811.9 664.5L813.5 666.3ZM260.5 480.6L269.0 486.1L284.6 491.0L300.2 491.7L315.7 488.4L329.9 480.6L331.3 479.5L340.9 468.3L344.9 456.1L343.9 443.8L337.4 431.5L331.3 425.6L321.3 419.3L315.7 416.5L300.2 413.1L284.6 413.8L269.0 419.0L268.5 419.3L253.5 430.9L252.9 431.5L246.2 443.8L245.2 456.1L249.3 468.3L253.5 473.7ZM1182.5 480.6L1186.8 482.4L1202.4 483.7L1214.1 480.6L1218.0 479.4L1232.3 468.3L1233.5 465.9L1237.9 456.1L1236.5 443.8L1233.5 439.2L1227.2 431.5L1218.0 425.4L1202.4 421.5L1186.8 422.7L1171.3 429.9L1169.3 431.5L1160.4 443.8L1159.1 456.1L1164.3 468.3L1171.3 474.9ZM660.3 321.2L673.5 329.2L689.1 333.2L704.6 333.1L720.2 329.0L732.8 321.2L735.7 318.4L743.1 308.9L746.6 296.7L745.1 284.4L737.9 272.2L735.7 270.0L720.7 259.9L720.2 259.6L704.6 255.3L689.1 255.2L673.5 259.4L672.5 259.9L657.9 269.6L655.3 272.2L648.1 284.4L646.6 296.7L650.1 308.9L657.9 318.9ZM1380.4 321.2L1389.1 324.6L1404.6 325.4L1418.3 321.2L1420.2 320.5L1433.8 308.9L1435.7 304.4L1438.7 296.7L1436.6 284.4L1435.7 283.2L1426.5 272.2L1420.2 267.9L1404.6 263.4L1389.1 264.1L1373.5 270.6L1371.5 272.2L1361.6 284.4L1359.7 296.7L1364.2 308.9L1373.5 317.7ZM965.1 284.4L969.1 287.0L984.6 292.8L1000.2 294.1L1015.7 291.5L1030.3 284.4L1031.3 283.8L1042.4 272.2L1046.8 260.7L1047.2 259.9L1046.8 250.7L1046.7 247.6L1041.1 235.4L1031.3 225.8L1026.8 223.1L1015.7 217.9L1000.2 215.3L984.6 216.6L969.1 222.5L968.1 223.1L954.3 235.4L953.5 236.8L948.3 247.6L947.9 259.9L952.9 272.2L953.5 272.9ZM367.9 247.6L377.9 252.2L393.5 254.7L409.0 253.2L423.5 247.6L424.6 247.1L438.3 235.4L440.2 232.0L444.6 223.1L445.4 210.8L440.8 198.6L440.2 197.8L429.2 186.3L424.6 183.2L409.0 177.3L393.5 175.8L377.9 178.3L362.4 185.8L361.6 186.3L350.2 198.6L346.8 208.0L345.8 210.8L346.6 223.1L346.8 223.6L352.7 235.4L362.4 244.5Z"/>
<path stroke="#24c1ae" d="M914.3 1032.3L922.4 1037.6L937.9 1042.6L953.5 1043.0L969.1 1039.2L980.7 1032.3L984.6 1028.6L991.3 1020.0L994.7 1007.8L992.7 995.5L984.6 983.4L984.5 983.3L969.1 973.2L960.6 971.0L953.5 969.3L937.9 969.8L933.9 971.0L922.4 974.9L910.6 983.3L906.8 988.1L902.2 995.5L900.2 1007.8L903.7 1020.0L906.8 1024.4ZM376.1 872.9L377.9 873.9L393.5 877.5L409.0 875.5L414.3 872.9L424.6 865.8L429.2 860.7L433.0 848.4L429.7 836.1L424.6 830.2L415.9 823.9L409.0 820.5L393.5 818.5L377.9 822.0L374.7 823.9L362.4 834.9L361.4 836.1L358.0 848.4L361.9 860.7L362.4 861.3ZM1414.5 872.9L1420.2 877.1L1435.7 883.6L1451.3 885.1L1466.8 882.4L1482.4 874.4L1484.2 872.9L1493.6 860.7L1496.4 848.4L1493.9 836.1L1485.0 823.9L1482.4 821.7L1466.8 813.6L1455.7 811.6L1451.3 810.8L1443.9 811.6L1435.7 812.4L1420.2 818.9L1413.7 823.9L1404.6 836.1L1404.6 836.2L1402.0 848.4L1404.6 859.1L1405.0 860.7ZM832.3 676.7L844.6 679.7L860.2 677.8L862.5 676.7L875.7 668.7L879.8 664.5L884.5 652.2L882.2 640.0L875.7 632.0L870.3 627.7L860.2 622.6L844.6 620.8L829.1 624.5L823.7 627.7L813.5 638.1L812.2 640.0L809.7 652.2L813.5 661.9L814.6 664.5L829.1 675.8ZM264.6 480.6L269.0 483.4L284.6 488.8L300.2 489.5L315.7 485.9L325.5 480.6L331.3 475.9L337.8 468.3L342.1 456.1L341.0 443.8L334.0 431.5L331.3 428.9L316.1 419.3L315.7 419.1L300.2 415.4L284.6 416.2L275.2 419.3L269.0 421.7L256.4 431.5L253.5 436.0L249.2 443.8L248.0 456.1L252.5 468.3L253.5 469.6ZM1189.0 480.6L1202.4 481.8L1206.9 480.6L1218.0 477.3L1229.5 468.3L1233.5 460.5L1235.5 456.1L1234.0 443.8L1233.5 443.1L1224.1 431.5L1218.0 427.5L1202.4 423.2L1186.8 424.5L1172.5 431.5L1171.3 432.6L1162.7 443.8L1161.3 456.1L1167.0 468.3L1171.3 472.4L1186.8 480.4ZM664.5 321.2L673.5 326.7L689.1 331.0L704.6 330.9L720.2 326.4L728.7 321.2L735.7 314.4L740.0 308.9L743.8 296.7L742.2 284.4L735.7 274.0L734.3 272.2L720.2 262.2L712.8 259.9L704.6 257.6L689.1 257.5L680.4 259.9L673.5 262.0L658.8 272.2L657.9 273.3L651.0 284.4L649.4 296.7L653.2 308.9L657.9 315.0ZM1385.3 321.2L1389.1 322.7L1404.6 323.5L1412.2 321.2L1420.2 318.3L1431.2 308.9L1435.7 298.0L1436.3 296.7L1435.7 293.7L1434.1 284.4L1423.3 272.2L1420.2 270.1L1404.6 265.1L1389.1 265.9L1375.0 272.2L1373.5 273.1L1364.0 284.4L1361.9 296.7L1366.8 308.9L1373.5 315.3ZM969.4 284.4L984.6 290.5L1000.2 291.9L1015.7 289.1L1025.4 284.4L1031.3 280.5L1039.3 272.2L1044.3 259.9L1043.9 247.6L1037.8 235.4L1031.3 229.0L1021.6 223.1L1015.7 220.4L1000.2 217.5L984.6 218.9L973.8 223.1L969.1 225.4L957.6 235.4L953.5 243.0L951.3 247.6L950.8 259.9L953.5 266.3L956.1 272.2L969.1 284.2ZM373.3 247.6L377.9 249.7L393.5 252.5L409.0 250.9L417.5 247.6L424.6 244.2L434.9 235.4L440.2 226.0L441.6 223.1L442.4 210.8L440.2 204.9L437.6 198.6L425.1 186.3L424.6 186.0L409.0 179.6L393.5 178.0L377.9 180.7L366.4 186.3L362.4 189.0L353.4 198.6L348.7 210.8L349.4 223.1L356.0 235.4L362.4 241.4Z"/>
<path stroke="#37c897" d="M918.3 1032.3L922.4 1035.0L937.9 1040.4L953.5 1040.9L969.1 1036.7L976.5 1032.3L984.6 1024.7L988.3 1020.0L991.9 1007.8L989.8 995.5L984.6 987.7L980.6 983.3L969.1 975.8L953.5 971.6L937.9 972.1L922.4 977.5L914.3 983.3L906.8 992.9L905.2 995.5L903.0 1007.8L906.7 1020.0L906.8 1020.2ZM381.8 872.9L393.5 875.7L409.0 873.5L410.3 872.9L424.6 863.0L426.7 860.7L430.7 848.4L427.2 836.1L424.6 833.1L411.9 823.9L409.0 822.5L393.5 820.3L378.7 823.9L377.9 824.1L364.0 836.1L362.4 841.1L360.3 848.4L362.4 854.9L364.5 860.7L377.9 871.8ZM1418.3 872.9L1420.2 874.3L1435.7 881.3L1451.3 882.9L1466.8 880.1L1480.1 872.9L1482.4 871.0L1490.6 860.7L1493.7 848.4L1491.0 836.1L1482.4 824.9L1481.2 823.9L1466.8 815.9L1451.3 813.1L1435.7 814.7L1420.2 821.7L1417.3 823.9L1407.6 836.1L1404.9 848.4L1408.0 860.7ZM839.9 676.7L844.6 677.9L853.5 676.7L860.2 675.8L875.7 666.0L877.2 664.5L882.3 652.2L879.8 640.0L875.7 635.0L866.5 627.7L860.2 624.5L844.6 622.6L829.1 626.5L827.1 627.7L814.7 640.0L813.5 645.2L812.0 652.2L813.5 656.0L817.3 664.5L829.1 673.7ZM268.7 480.6L269.0 480.8L284.6 486.5L300.2 487.3L315.7 483.5L321.0 480.6L331.3 472.3L334.7 468.3L339.4 456.1L338.2 443.8L331.3 432.4L330.6 431.5L315.7 421.6L306.9 419.3L300.2 417.7L284.6 418.5L282.3 419.3L269.0 424.4L259.9 431.5L253.5 441.3L252.1 443.8L250.9 456.1L253.5 463.1L255.7 468.3ZM1169.6 468.3L1171.3 469.9L1186.8 478.5L1202.4 479.9L1218.0 475.2L1226.8 468.3L1233.1 456.1L1231.6 443.8L1220.9 431.5L1218.0 429.6L1202.4 425.0L1186.8 426.4L1176.3 431.5L1171.3 435.6L1165.0 443.8L1163.5 456.1ZM668.7 321.2L673.5 324.1L689.1 328.8L704.6 328.7L720.2 323.9L724.5 321.2L735.7 310.5L736.9 308.9L741.0 296.7L739.2 284.4L735.7 278.7L730.6 272.2L720.2 264.8L704.6 259.9L699.9 259.9L689.1 259.8L688.9 259.9L673.5 264.6L662.6 272.2L657.9 278.0L653.9 284.4L652.2 296.7L656.2 308.9L657.9 311.1ZM1397.0 321.2L1404.6 321.6L1406.0 321.2L1420.2 316.1L1428.6 308.9L1434.0 296.7L1431.7 284.4L1420.2 272.2L1420.0 272.2L1404.6 266.9L1389.1 267.7L1379.1 272.2L1373.5 275.9L1366.3 284.4L1364.1 296.7L1369.4 308.9L1373.5 312.9L1389.1 320.7ZM975.1 284.4L984.6 288.2L1000.2 289.8L1015.7 286.7L1020.5 284.4L1031.3 277.2L1036.1 272.2L1041.6 259.9L1041.1 247.6L1034.6 235.4L1031.3 232.2L1016.4 223.1L1015.7 222.8L1000.2 219.7L984.6 221.3L979.8 223.1L969.1 228.3L960.9 235.4L954.2 247.6L953.8 259.9L959.3 272.2L969.1 281.2ZM379.6 247.6L393.5 250.2L409.0 248.5L411.4 247.6L424.6 241.3L431.6 235.4L438.7 223.1L439.5 210.8L434.4 198.6L424.6 189.1L419.8 186.3L409.0 181.8L393.5 180.2L377.9 183.1L371.2 186.3L362.4 192.4L356.5 198.6L351.5 210.8L352.3 223.1L359.3 235.4L362.4 238.2L377.9 247.3Z"/>
<path stroke="#4acb84" d="M922.2 1032.3L922.4 1032.4L937.9 1038.1L953.5 1038.7L969.1 1034.2L972.3 1032.3L984.6 1020.9L985.2 1020.0L989.1 1007.8L986.9 995.5L984.6 992.1L976.8 983.3L969.1 978.3L953.5 973.8L937.9 974.3L922.4 980.1L918.0 983.3L908.2 995.5L906.8 1002.4L905.8 1007.8L906.8 1011.0L909.9 1020.0ZM389.2 872.9L393.5 873.9L400.6 872.9L409.0 871.5L424.2 860.7L424.6 859.7L428.5 848.4L424.8 836.1L424.6 835.9L409.0 824.4L405.9 823.9L393.5 822.0L385.9 823.9L377.9 826.3L366.5 836.1L362.6 848.4L367.1 860.7L377.9 869.6ZM1422.6 872.9L1435.7 879.0L1451.3 880.8L1466.8 877.7L1475.7 872.9L1482.4 867.3L1487.7 860.7L1490.9 848.4L1488.1 836.1L1482.4 828.7L1476.9 823.9L1466.8 818.3L1451.3 815.3L1435.7 817.0L1421.2 823.9L1420.2 824.7L1410.6 836.1L1407.7 848.4L1411.0 860.7L1420.2 871.2ZM820.0 664.5L829.1 671.6L844.6 676.1L860.2 673.9L874.4 664.5L875.7 662.3L880.0 652.2L877.4 640.0L875.7 637.9L862.8 627.7L860.2 626.4L844.6 624.3L831.9 627.7L829.1 628.7L817.1 640.0L814.4 652.2ZM274.6 480.6L284.6 484.3L300.2 485.1L315.7 481.0L316.5 480.6L331.3 468.7L331.6 468.3L336.6 456.1L335.3 443.8L331.3 437.1L326.8 431.5L315.7 424.1L300.2 419.9L284.6 420.8L269.0 427.1L263.4 431.5L255.1 443.8L253.8 456.1L258.9 468.3L269.0 477.8ZM1172.5 468.3L1186.8 476.6L1202.4 478.1L1218.0 473.1L1224.1 468.3L1230.9 456.1L1229.2 443.8L1218.0 431.7L1217.7 431.5L1202.4 426.7L1186.8 428.2L1180.0 431.5L1171.3 438.6L1167.3 443.8L1165.7 456.1L1171.3 466.7ZM672.8 321.2L673.5 321.6L689.1 326.6L704.6 326.5L720.2 321.3L720.4 321.2L733.7 308.9L735.7 303.9L738.2 296.7L736.3 284.4L735.7 283.5L726.9 272.2L720.2 267.4L704.6 262.2L689.1 262.1L673.5 267.2L666.3 272.2L657.9 282.6L656.8 284.4L655.0 296.7L657.9 305.3L659.4 308.9ZM1372.0 308.9L1373.5 310.4L1389.1 318.9L1404.6 319.8L1420.2 313.9L1426.0 308.9L1431.8 296.7L1429.3 284.4L1420.2 274.8L1414.9 272.2L1404.6 268.7L1389.1 269.5L1383.2 272.2L1373.5 278.7L1368.7 284.4L1366.3 296.7ZM980.8 284.4L984.6 285.9L1000.2 287.6L1015.3 284.4L1015.7 284.3L1031.3 273.9L1032.9 272.2L1038.8 259.9L1038.3 247.6L1031.3 235.4L1031.3 235.4L1015.7 225.3L1006.0 223.1L1000.2 221.9L989.0 223.1L984.6 223.6L969.1 231.2L964.2 235.4L957.1 247.6L956.6 259.9L962.5 272.2L969.1 278.2ZM391.5 247.6L393.5 248.0L396.8 247.6L409.0 246.2L424.6 238.4L428.2 235.4L435.8 223.1L436.7 210.8L431.2 198.6L424.6 192.1L414.3 186.3L409.0 184.1L393.5 182.4L377.9 185.4L376.1 186.3L362.4 195.7L359.6 198.6L354.2 210.8L355.1 223.1L362.4 235.0L362.7 235.4L377.9 244.8Z"/>
<path stroke="#72cd64" d="M928.2 1032.3L937.9 1035.9L953.5 1036.5L967.5 1032.3L969.1 1031.7L982.0 1020.0L984.6 1013.3L986.4 1007.8L984.6 998.6L983.9 995.5L972.9 983.3L969.1 980.8L953.5 976.0L937.9 976.6L922.4 982.8L921.7 983.3L911.2 995.5L908.7 1007.8L913.0 1020.0L922.4 1029.3ZM1427.5 872.9L1435.7 876.7L1451.3 878.6L1466.8 875.3L1471.3 872.9L1482.4 863.6L1484.7 860.7L1488.2 848.4L1485.1 836.1L1482.4 832.6L1472.6 823.9L1466.8 820.7L1451.3 817.4L1435.7 819.3L1426.1 823.9L1420.2 828.2L1413.6 836.1L1410.5 848.4L1414.0 860.7L1420.2 867.8ZM369.7 860.7L377.9 867.5L393.5 872.1L409.0 869.5L421.3 860.7L424.6 853.3L426.3 848.4L424.6 842.9L422.0 836.1L409.0 826.5L394.0 823.9L393.5 823.8L393.2 823.9L377.9 828.5L369.1 836.1L364.9 848.4ZM822.7 664.5L829.1 669.5L844.6 674.3L860.2 671.9L871.5 664.5L875.7 657.1L877.8 652.2L875.7 643.0L874.9 640.0L860.2 628.4L856.3 627.7L844.6 626.0L838.4 627.7L829.1 631.1L819.6 640.0L816.7 652.2ZM280.7 480.6L284.6 482.0L300.2 482.9L309.0 480.6L315.7 478.3L328.2 468.3L331.3 462.3L333.8 456.1L332.5 443.8L331.3 441.8L323.0 431.5L315.7 426.7L300.2 422.2L284.6 423.1L269.0 429.9L266.9 431.5L258.0 443.8L256.6 456.1L262.1 468.3L269.0 474.8ZM1175.7 468.3L1186.8 474.8L1202.4 476.4L1218.0 471.0L1221.4 468.3L1228.6 456.1L1226.8 443.8L1218.0 434.2L1212.2 431.5L1202.4 428.4L1186.8 430.0L1183.8 431.5L1171.3 441.7L1169.7 443.8L1167.9 456.1L1171.3 462.5ZM679.2 321.2L689.1 324.4L704.6 324.3L714.0 321.2L720.2 318.4L730.5 308.9L735.4 296.7L733.3 284.4L723.2 272.2L720.2 270.0L704.6 264.4L689.1 264.3L673.5 269.7L670.0 272.2L659.9 284.4L657.9 295.5L657.8 296.7L657.9 297.2L662.7 308.9L673.5 318.7ZM1374.8 308.9L1389.1 317.0L1404.6 318.0L1420.2 311.7L1423.4 308.9L1429.5 296.7L1426.9 284.4L1420.2 277.3L1409.7 272.2L1404.6 270.4L1389.1 271.4L1387.3 272.2L1373.5 281.5L1371.0 284.4L1368.5 296.7L1373.5 307.1ZM991.2 284.4L1000.2 285.4L1004.8 284.4L1015.7 281.7L1029.5 272.2L1031.3 269.5L1036.0 259.9L1035.5 247.6L1031.3 240.3L1027.4 235.4L1015.7 227.8L1000.2 224.2L984.6 226.0L969.1 234.1L967.6 235.4L960.0 247.6L959.4 259.9L965.8 272.2L969.1 275.2L984.6 283.6ZM366.7 235.4L377.9 242.4L393.5 245.8L409.0 243.8L424.6 235.6L424.8 235.4L433.0 223.1L433.9 210.8L428.1 198.6L424.6 195.2L409.0 186.4L408.2 186.3L393.5 184.5L384.6 186.3L377.9 188.0L362.8 198.6L362.4 199.3L357.0 210.8L357.9 223.1L362.4 230.4Z"/>
<path stroke="#9dc943" d="M934.2 1032.3L937.9 1033.7L953.5 1034.3L960.2 1032.3L969.1 1028.7L978.7 1020.0L983.5 1007.8L980.7 995.5L969.1 983.3L969.0 983.3L953.5 978.2L937.9 978.8L926.9 983.3L922.4 986.1L914.2 995.5L911.6 1007.8L916.2 1020.0L922.4 1026.2ZM1432.5 872.9L1435.7 874.4L1451.3 876.4L1466.8 872.9L1466.9 872.9L1481.6 860.7L1482.4 858.6L1485.4 848.4L1482.4 836.8L1482.2 836.1L1468.3 823.9L1466.8 823.1L1451.3 819.6L1435.7 821.6L1431.0 823.9L1420.2 831.8L1416.5 836.1L1413.3 848.4L1417.0 860.7L1420.2 864.3ZM372.3 860.7L377.9 865.3L393.5 870.2L409.0 867.4L418.5 860.7L424.0 848.4L419.2 836.1L409.0 828.6L393.5 825.7L377.9 830.7L371.7 836.1L367.2 848.4ZM825.3 664.5L829.1 667.4L844.6 672.4L860.2 670.0L868.5 664.5L875.6 652.2L872.1 640.0L860.2 630.6L844.6 627.8L829.1 633.4L822.1 640.0L819.0 652.2ZM297.2 480.6L300.2 480.8L300.8 480.6L315.7 475.6L324.8 468.3L331.0 456.1L329.4 443.8L319.2 431.5L315.7 429.2L300.2 424.4L284.6 425.4L271.0 431.5L269.0 433.0L260.9 443.8L259.5 456.1L265.3 468.3L269.0 471.8L284.6 479.7ZM1179.0 468.3L1186.8 472.9L1202.4 474.6L1218.0 468.9L1218.7 468.3L1226.3 456.1L1224.4 443.8L1218.0 436.8L1206.7 431.5L1202.4 430.2L1189.7 431.5L1186.8 431.9L1172.1 443.8L1171.3 448.3L1170.1 456.1L1171.3 458.3ZM686.0 321.2L689.1 322.2L704.6 322.1L707.3 321.2L720.2 315.4L727.2 308.9L732.4 296.7L730.2 284.4L720.2 272.8L719.1 272.2L704.6 266.6L689.1 266.6L673.9 272.2L673.5 272.4L663.0 284.4L660.7 296.7L665.9 308.9L673.5 315.8ZM1378.2 308.9L1389.1 315.1L1404.6 316.1L1420.2 309.5L1420.8 308.9L1427.3 296.7L1424.6 284.4L1420.2 279.8L1404.6 272.2L1389.1 273.4L1373.5 284.3L1373.4 284.4L1370.7 296.7L1373.5 302.6ZM969.0 272.2L969.1 272.2L984.6 281.1L1000.2 283.1L1015.7 279.1L1025.8 272.2L1031.3 263.9L1033.2 259.9L1032.7 247.6L1031.3 245.2L1023.5 235.4L1015.7 230.3L1000.2 226.5L984.6 228.4L971.5 235.4L969.1 237.8L962.8 247.6L962.2 259.9ZM370.6 235.4L377.9 239.9L393.5 243.5L409.0 241.4L420.4 235.4L424.6 231.4L430.1 223.1L431.1 210.8L424.9 198.6L424.6 198.3L409.0 189.0L393.5 186.8L377.9 190.6L366.6 198.6L362.4 205.2L359.8 210.8L360.8 223.1L362.4 225.8Z"/>
<path stroke="#c5c22a" d="M919.3 1020.0L922.4 1023.1L937.9 1031.3L953.5 1032.1L969.1 1025.7L975.4 1020.0L980.5 1007.8L977.5 995.5L969.1 986.6L962.2 983.3L953.5 980.4L937.9 981.1L932.5 983.3L922.4 989.6L917.3 995.5L914.5 1007.8ZM1441.4 872.9L1451.3 874.2L1457.2 872.9L1466.8 870.0L1478.1 860.7L1482.4 849.4L1482.7 848.4L1482.4 847.3L1478.7 836.1L1466.8 825.9L1460.4 823.9L1451.3 821.8L1436.0 823.9L1435.7 823.9L1420.2 835.3L1419.5 836.1L1416.0 848.4L1420.0 860.7L1420.2 860.9L1435.7 871.9ZM374.9 860.7L377.9 863.1L393.5 868.4L409.0 865.4L415.6 860.7L421.5 848.4L416.4 836.1L409.0 830.7L393.5 827.6L377.9 833.0L374.2 836.1L369.5 848.4ZM828.0 664.5L829.1 665.3L844.6 670.6L860.2 668.0L865.5 664.5L873.0 652.2L869.3 640.0L860.2 632.7L844.6 629.8L829.1 635.8L824.6 640.0L821.3 652.2ZM268.5 468.3L269.0 468.8L284.6 477.2L300.2 478.3L315.7 472.8L321.3 468.3L327.9 456.1L326.3 443.8L315.7 431.8L315.2 431.5L300.2 426.7L284.6 427.7L276.1 431.5L269.0 437.0L263.9 443.8L262.3 456.1ZM1182.2 468.3L1186.8 471.0L1202.4 472.8L1214.4 468.3L1218.0 465.7L1224.0 456.1L1222.0 443.8L1218.0 439.4L1202.4 432.0L1186.8 434.2L1175.0 443.8L1172.6 456.1ZM669.2 308.9L673.5 312.8L689.1 319.8L704.6 319.7L720.2 312.5L724.0 308.9L729.5 296.7L727.1 284.4L720.2 276.3L713.2 272.2L704.6 268.9L689.1 268.8L679.9 272.2L673.5 275.9L666.0 284.4L663.7 296.7ZM1381.5 308.9L1389.1 313.2L1404.6 314.3L1417.0 308.9L1420.2 305.8L1425.1 296.7L1422.2 284.4L1420.2 282.3L1404.6 274.3L1389.1 275.5L1376.4 284.4L1373.5 293.8L1372.9 296.7L1373.5 298.0ZM973.3 272.2L984.6 278.6L1000.2 280.7L1015.7 276.5L1022.0 272.2L1030.3 259.9L1029.6 247.6L1019.7 235.4L1015.7 232.8L1000.2 228.8L984.6 230.8L976.0 235.4L969.1 242.3L965.7 247.6L965.1 259.9L969.1 267.1ZM374.6 235.4L377.9 237.4L393.5 241.2L409.0 239.0L415.9 235.4L424.6 227.1L427.2 223.1L428.3 210.8L424.6 203.6L420.8 198.6L409.0 191.5L393.5 189.2L377.9 193.2L370.3 198.6L362.6 210.8L363.8 223.1Z"/>
<path stroke="#e6bb2d" d="M922.5 1020.0L937.9 1028.7L953.5 1029.5L969.1 1022.8L972.1 1020.0L977.5 1007.8L974.4 995.5L969.1 990.0L955.4 983.3L953.5 982.6L939.1 983.3L937.9 983.3L922.4 993.1L920.3 995.5L917.3 1007.8L922.4 1019.9ZM377.5 860.7L377.9 861.0L393.5 866.5L409.0 863.3L412.8 860.7L419.0 848.4L413.6 836.1L409.0 832.8L393.5 829.5L377.9 835.2L376.8 836.1L371.9 848.4ZM1423.9 860.7L1435.7 869.1L1451.3 871.9L1466.8 867.1L1474.5 860.7L1479.5 848.4L1475.2 836.1L1466.8 828.9L1451.3 824.0L1435.7 826.9L1423.2 836.1L1420.2 843.6L1418.8 848.4L1420.2 852.6ZM832.2 664.5L844.6 668.8L860.2 666.0L862.5 664.5L870.5 652.2L866.6 640.0L860.2 634.9L844.6 631.8L829.1 638.1L827.1 640.0L823.6 652.2L829.1 662.0ZM272.9 468.3L284.6 474.7L300.2 475.9L315.7 470.0L317.8 468.3L324.9 456.1L323.1 443.8L315.7 435.4L308.2 431.5L300.2 428.9L284.6 430.0L281.2 431.5L269.0 440.9L266.8 443.8L265.2 456.1L269.0 463.7ZM1185.5 468.3L1186.8 469.1L1202.4 471.0L1209.7 468.3L1218.0 462.1L1221.8 456.1L1219.7 443.8L1218.0 442.0L1202.4 434.2L1186.8 436.5L1177.8 443.8L1175.3 456.1ZM672.5 308.9L673.5 309.9L689.1 317.2L704.6 317.1L720.2 309.5L720.8 308.9L726.6 296.7L724.1 284.4L720.2 279.9L707.3 272.2L704.6 271.1L689.1 271.0L686.0 272.2L673.5 279.4L669.1 284.4L666.6 296.7ZM1384.8 308.9L1389.1 311.3L1404.6 312.5L1412.8 308.9L1420.2 301.7L1422.9 296.7L1420.2 285.9L1419.5 284.4L1404.6 276.3L1389.1 277.7L1379.5 284.4L1375.5 296.7ZM977.6 272.2L984.6 276.2L1000.2 278.4L1015.7 273.9L1018.3 272.2L1027.0 259.9L1026.3 247.6L1015.8 235.4L1015.7 235.3L1000.2 231.0L984.6 233.2L980.5 235.4L969.1 246.8L968.5 247.6L967.9 259.9L969.1 262.0ZM379.4 235.4L393.5 239.0L409.0 236.7L411.5 235.4L424.3 223.1L424.6 220.7L425.5 210.8L424.6 209.1L416.6 198.6L409.0 194.0L393.5 191.6L377.9 195.8L374.0 198.6L365.9 210.8L367.2 223.1L377.9 234.8Z"/>
<path stroke="#f8ba3d" d="M927.3 1020.0L937.9 1026.0L953.5 1026.9L968.6 1020.0L969.1 1019.5L974.5 1007.8L971.2 995.5L969.1 993.3L953.5 985.4L937.9 986.3L923.8 995.5L922.4 999.1L920.2 1007.8L922.4 1013.0ZM382.4 860.7L393.5 864.6L409.0 861.3L409.9 860.7L416.5 848.4L410.8 836.1L409.0 834.8L393.5 831.5L380.8 836.1L377.9 839.3L374.2 848.4L377.9 856.5ZM1427.9 860.7L1435.7 866.3L1451.3 869.2L1466.8 864.1L1471.0 860.7L1476.2 848.4L1471.7 836.1L1466.8 832.0L1451.3 826.8L1435.7 829.8L1427.2 836.1L1422.1 848.4ZM837.4 664.5L844.6 667.0L858.2 664.5L860.2 663.7L867.9 652.2L863.8 640.0L860.2 637.1L844.6 633.9L830.0 640.0L829.1 641.6L825.9 652.2L829.1 657.9ZM277.6 468.3L284.6 472.1L300.2 473.4L313.3 468.3L315.7 466.3L321.8 456.1L319.9 443.8L315.7 439.1L301.3 431.5L300.2 431.2L295.1 431.5L284.6 432.7L270.1 443.8L269.0 448.9L268.0 456.1L269.0 458.0ZM1194.9 468.3L1202.4 469.3L1204.9 468.3L1218.0 458.5L1219.5 456.1L1218.0 447.4L1216.8 443.8L1202.4 436.3L1186.8 438.8L1180.6 443.8L1178.0 456.1L1186.8 466.5ZM677.1 308.9L689.1 314.7L704.6 314.5L715.9 308.9L720.2 303.9L723.6 296.7L721.0 284.4L720.2 283.4L704.6 273.8L689.1 273.7L673.5 282.9L672.2 284.4L669.6 296.7L673.5 304.8ZM1388.1 308.9L1389.1 309.5L1404.6 310.7L1408.6 308.9L1420.2 297.5L1420.6 296.7L1420.2 294.8L1415.7 284.4L1404.6 278.4L1389.1 279.8L1382.5 284.4L1378.4 296.7ZM982.0 272.2L984.6 273.7L1000.2 276.0L1013.2 272.2L1015.7 270.8L1023.8 259.9L1023.0 247.6L1015.7 239.2L1007.6 235.4L1000.2 233.3L986.0 235.4L984.6 235.7L972.2 247.6L971.3 259.9ZM388.2 235.4L393.5 236.7L402.3 235.4L409.0 233.8L420.5 223.1L422.1 210.8L412.4 198.6L409.0 196.6L393.5 194.0L377.9 198.5L377.8 198.6L369.2 210.8L370.6 223.1L377.9 231.1Z"/>
<path stroke="#fec934" d="M932.0 1020.0L937.9 1023.4L953.5 1024.2L962.8 1020.0L969.1 1013.0L971.4 1007.8L969.1 999.2L967.2 995.5L953.5 988.3L937.9 989.3L928.4 995.5L923.4 1007.8ZM387.6 860.7L393.5 862.7L403.1 860.7L409.0 857.5L414.0 848.4L409.0 838.1L405.8 836.1L393.5 833.4L386.0 836.1L377.9 844.9L376.5 848.4L377.9 851.5ZM1431.9 860.7L1435.7 863.4L1451.3 866.5L1466.8 861.2L1467.5 860.7L1472.9 848.4L1468.2 836.1L1466.8 835.0L1451.3 829.5L1435.7 832.7L1431.1 836.1L1425.7 848.4ZM842.6 664.5L844.6 665.2L848.4 664.5L860.2 659.9L865.4 652.2L861.0 640.0L860.2 639.3L844.6 635.9L834.9 640.0L829.1 649.2L828.2 652.2L829.1 653.8ZM282.2 468.3L284.6 469.6L300.2 470.9L306.9 468.3L315.7 461.1L318.7 456.1L316.7 443.8L315.7 442.7L300.2 434.2L284.6 436.0L274.4 443.8L271.8 456.1ZM1180.7 456.1L1186.8 463.3L1202.4 466.9L1216.7 456.1L1212.6 443.8L1202.4 438.5L1186.8 441.1L1183.5 443.8ZM682.5 308.9L689.1 312.1L704.6 312.0L710.7 308.9L720.2 297.8L720.7 296.7L720.2 294.2L716.6 284.4L704.6 276.9L689.1 276.8L676.4 284.4L673.5 292.2L672.5 296.7L673.5 298.7ZM1381.2 296.7L1389.1 306.4L1404.6 308.8L1417.3 296.7L1411.9 284.4L1404.6 280.5L1389.1 281.9L1385.5 284.4ZM990.5 272.2L1000.2 273.7L1005.2 272.2L1015.7 266.3L1020.5 259.9L1019.7 247.6L1015.7 243.0L1000.2 235.7L984.6 239.4L976.0 247.6L975.1 259.9L984.6 270.5ZM373.9 223.1L377.9 227.4L393.5 234.1L409.0 230.2L416.7 223.1L418.3 210.8L409.0 199.5L406.3 198.6L393.5 196.4L385.8 198.6L377.9 203.1L372.5 210.8Z"/>
<path stroke="#f7dc2a" d="M936.8 1020.0L937.9 1020.7L953.5 1021.6L957.0 1020.0L968.0 1007.8L961.6 995.5L953.5 991.2L937.9 992.3L933.0 995.5L927.8 1007.8ZM392.9 860.7L393.5 860.9L394.5 860.7L409.0 852.8L411.4 848.4L409.0 843.4L397.3 836.1L393.5 835.3L391.2 836.1L379.6 848.4ZM1436.1 860.7L1451.3 863.8L1460.4 860.7L1466.8 854.6L1469.6 848.4L1466.8 841.3L1462.0 836.1L1451.3 832.3L1435.7 835.6L1435.0 836.1L1429.4 848.4L1435.7 860.5ZM831.8 652.2L844.6 662.3L860.2 656.1L862.8 652.2L860.2 644.9L853.9 640.0L844.6 637.9L839.7 640.0ZM298.5 468.3L300.2 468.5L300.5 468.3L315.5 456.1L311.7 443.8L300.2 437.5L284.6 439.3L278.7 443.8L275.9 456.1L284.6 466.0ZM1183.4 456.1L1186.8 460.1L1202.4 463.9L1212.7 456.1L1208.4 443.8L1202.4 440.7L1186.8 443.4L1186.3 443.8ZM687.8 308.9L689.1 309.5L704.6 309.4L705.6 308.9L716.3 296.7L711.7 284.4L704.6 280.0L689.1 279.8L681.5 284.4L676.7 296.7ZM1384.1 296.7L1389.1 302.9L1404.6 305.4L1413.8 296.7L1408.1 284.4L1404.6 282.5L1389.1 284.1L1388.6 284.4ZM978.9 259.9L984.6 266.3L1000.2 270.7L1015.7 261.9L1017.2 259.9L1016.4 247.6L1015.7 246.9L1000.2 239.2L984.6 243.1L979.9 247.6ZM377.3 223.1L377.9 223.8L393.5 230.7L409.0 226.7L412.9 223.1L414.6 210.8L409.0 204.0L393.5 198.9L377.9 207.8L375.8 210.8Z"/>
<path stroke="#f6ef20" d="M932.1 1007.8L937.9 1015.6L953.5 1017.8L962.7 1007.8L956.1 995.5L953.5 994.2L937.9 995.3L937.6 995.5ZM1449.1 860.7L1451.3 861.1L1452.6 860.7L1465.8 848.4L1454.3 836.1L1451.3 835.1L1446.3 836.1L1435.7 842.7L1433.1 848.4L1435.7 853.4ZM384.3 848.4L393.5 856.9L408.7 848.4L393.5 838.8ZM836.2 652.2L844.6 658.8L860.2 652.3L860.2 652.2L860.2 652.0L844.9 640.0L844.6 639.9L844.5 640.0ZM280.1 456.1L284.6 461.2L300.2 463.9L309.8 456.1L305.8 443.8L300.2 440.7L284.6 442.6L283.0 443.8ZM1186.1 456.1L1186.8 456.9L1202.4 460.9L1208.8 456.1L1204.3 443.8L1202.4 442.8L1196.8 443.8L1186.8 452.9ZM681.6 296.7L689.1 304.9L704.6 304.6L711.6 296.7L706.8 284.4L704.6 283.0L689.1 282.9L686.5 284.4ZM1386.9 296.7L1389.1 299.4L1404.6 302.0L1410.2 296.7L1404.6 285.1L1389.1 290.8ZM982.7 259.9L984.6 262.0L1000.2 266.6L1011.9 259.9L1010.0 247.6L1000.2 242.7L984.6 246.8L983.7 247.6ZM384.0 223.1L393.5 227.4L409.0 223.2L409.1 223.1L410.9 210.8L409.0 208.6L393.5 203.2L380.5 210.8Z"/>
<path stroke="#f9fb15" d="M936.5 1007.8L937.9 1009.8L953.5 1012.0L957.4 1007.8L953.5 1000.7L937.9 1004.5ZM388.9 848.4L393.5 852.6L401.0 848.4L393.5 843.7ZM1439.2 848.4L1451.3 855.1L1458.5 848.4L1451.3 840.8ZM840.7 652.2L844.6 655.3L852.0 652.2L844.6 646.4ZM284.3 456.1L284.6 456.4L300.2 459.3L304.1 456.1L300.2 444.3L284.6 454.7ZM1195.3 456.1L1202.4 457.9L1204.8 456.1L1202.4 449.6ZM686.4 296.7L689.1 299.6L704.6 299.3L706.9 296.7L704.6 290.9L689.1 290.3ZM1393.6 296.7L1404.6 298.6L1406.6 296.7L1404.6 292.5ZM991.2 259.9L1000.2 262.6L1004.9 259.9L1002.9 247.6L1000.2 246.3L994.9 247.6ZM391.5 223.1L393.5 224.0L396.8 223.1L403.0 210.8L393.5 207.5L387.8 210.8Z"/>
</g>
<g stroke="#f00" stroke-width="5.6" fill="none" shape-rendering="crispEdges">
<path d="M230.76 96.85h28.4M244.96 82.05v29.2M234.96 86.85l20 20M234.96 106.85l20 -20"/>
<path d="M632.2 96.85h28.4M646.4 82.05v29.2M636.4 86.85l20 20M636.4 106.85l20 -20"/>
<path d="M1334.72 96.85h28.4M1348.92 82.05v29.2M1338.92 86.85l20 20M1338.92 106.85l20 -20"/>
<path d="M481.66 136.4h28.4M495.86 121.6v29.2M485.86 126.4l20 20M485.86 146.4l20 -20"/>
<path d="M180.58 255.05h28.4M194.78 240.25v29.2M184.78 245.05l20 20M184.78 265.05l20 -20"/>
<path d="M832.92 255.05h28.4M847.12 240.25v29.2M837.12 245.05l20 20M837.12 265.05l20 -20"/>
<path d="M1184.18 294.6h28.4M1198.38 279.8v29.2M1188.38 284.6l20 20M1188.38 304.6l20 -20"/>
<path d="M431.48 373.7h28.4M445.68 358.9v29.2M435.68 363.7l20 20M435.68 383.7l20 -20"/>
<path d="M1585.62 413.25h28.4M1599.82 398.45v29.2M1589.82 403.25l20 20M1589.82 423.25l20 -20"/>
<path d="M682.38 452.8h28.4M696.58 438v29.2M686.58 442.8l20 20M686.58 462.8l20 -20"/>
<path d="M481.66 492.35h28.4M495.86 477.55v29.2M485.86 482.35l20 20M485.86 502.35l20 -20"/>
<path d="M983.46 531.9h28.4M997.66 517.1v29.2M987.66 521.9l20 20M987.66 541.9l20 -20"/>
<path d="M1435.08 531.9h28.4M1449.28 517.1v29.2M1439.28 521.9l20 20M1439.28 541.9l20 -20"/>
<path d="M1083.82 729.65h28.4M1098.02 714.85v29.2M1088.02 719.65l20 20M1088.02 739.65l20 -20"/>
<path d="M1334.72 729.65h28.4M1348.92 714.85v29.2M1338.92 719.65l20 20M1338.92 739.65l20 -20"/>
<path d="M1585.62 769.2h28.4M1599.82 754.4v29.2M1589.82 759.2l20 20M1589.82 779.2l20 -20"/>
<path d="M883.1 848.3h28.4M897.3 833.5v29.2M887.3 838.3l20 20M887.3 858.3l20 -20"/>
<path d="M1234.36 966.95h28.4M1248.56 952.15v29.2M1238.56 956.95l20 20M1238.56 976.95l20 -20"/>
<path d="M1535.44 1046.05h28.4M1549.64 1031.25v29.2M1539.64 1036.05l20 20M1539.64 1056.05l20 -20"/>
<path d="M732.56 1085.6h28.4M746.76 1070.8v29.2M736.76 1075.6l20 20M736.76 1095.6l20 -20"/>
</g>
<g stroke="#00f" stroke-width="5.55" fill="none" shape-rendering="crispEdges">
<circle cx="1148.2" cy="215.5" r="13.8"/>
<circle cx="244.96" cy="729.65" r="13.8"/>
<circle cx="1248.56" cy="650.55" r="13.8"/>
<circle cx="1399.1" cy="611" r="13.8"/>
<circle cx="847.12" cy="769.2" r="13.8"/>
<circle cx="1148.2" cy="1006.5" r="13.8"/>
</g>
<g stroke="#dedede" fill="none" shape-rendering="crispEdges">
<line x1="395.5" y1="1182.9" x2="395.5" y2="30" stroke-width="5" stroke-dasharray="3.7 7.3"/>
<line x1="646.5" y1="1182.9" x2="646.5" y2="30" stroke-width="5" stroke-dasharray="3.7 7.3"/>
<line x1="897.5" y1="1182.9" x2="897.5" y2="30" stroke-width="5" stroke-dasharray="3.7 7.3"/>
<line x1="1148" y1="1182.9" x2="1148" y2="30" stroke-width="6" stroke-dasharray="3.7 7.3"/>
<line x1="1399" y1="1182.9" x2="1399" y2="30" stroke-width="6" stroke-dasharray="3.7 7.3"/>
<line x1="161.1" y1="215.5" x2="1635" y2="215.5" stroke-width="5" stroke-dasharray="3.1 7.9"/>
<line x1="161.1" y1="413" x2="1635" y2="413" stroke-width="6" stroke-dasharray="3.1 7.9"/>
<line x1="161.1" y1="611" x2="1635" y2="611" stroke-width="6" stroke-dasharray="3.1 7.9"/>
<line x1="161.1" y1="808.5" x2="1635" y2="808.5" stroke-width="5" stroke-dasharray="3.1 7.9"/>
<line x1="161.1" y1="1006.5" x2="1635" y2="1006.5" stroke-width="5" stroke-dasharray="3.1 7.9"/>
</g>
<g fill="#262626" stroke="none" shape-rendering="crispEdges">
<rect x="142" y="24" width="5" height="1183"/>
<rect x="1635" y="24" width="6" height="1183"/>
<rect x="142" y="24" width="1499" height="6"/>
<rect x="142" y="1201" width="1499" height="6"/>
<rect x="393" y="1186" width="5" height="15"/>
<rect x="393" y="30" width="5" height="15"/>
<rect x="644" y="1186" width="5" height="15"/>
<rect x="644" y="30" width="5" height="15"/>
<rect x="895" y="1186" width="5" height="15"/>
<rect x="895" y="30" width="5" height="15"/>
<rect x="1145" y="1186" width="6" height="15"/>
<rect x="1145" y="30" width="6" height="15"/>
<rect x="1396" y="1186" width="6" height="15"/>
<rect x="1396" y="30" width="6" height="15"/>
<rect x="147" y="213" width="15" height="5"/>
<rect x="1620" y="213" width="15" height="5"/>
<rect x="147" y="410" width="15" height="6"/>
<rect x="1620" y="410" width="15" height="6"/>
<rect x="147" y="608" width="15" height="6"/>
<rect x="1620" y="608" width="15" height="6"/>
<rect x="147" y="806" width="15" height="5"/>
<rect x="1620" y="806" width="15" height="5"/>
<rect x="147" y="1004" width="15" height="5"/>
<rect x="1620" y="1004" width="15" height="5"/>
</g>
<g class="tk" text-anchor="middle">
<text x="143.6" y="1267.8">0</text>
<text x="394.5" y="1267.8">5</text>
<text x="646.2" y="1267.8">10</text>
<text x="897.1" y="1267.8">15</text>
<text x="1147.2" y="1267.8">20</text>
<text x="1398.1" y="1267.8">25</text>
</g>
<g class="tk" text-anchor="end">
<text x="124.1" y="1221.35">0</text>
<text x="124.1" y="1023.6">5</text>
<text x="124.1" y="825.85">10</text>
<text x="124.1" y="628.1">15</text>
<text x="124.1" y="430.35">20</text>
<text x="124.1" y="232.6">25</text>
</g>
<text class="al" text-anchor="middle" x="891" y="1335.4">x[m]</text>
<text class="al" text-anchor="middle" transform="translate(56 616) rotate(-90)">y[m]</text>
<g stroke="#000" fill="#000" shape-rendering="crispEdges">
<line x1="890.3" y1="397.9" x2="865.28" y2="304.05" stroke-width="5.6"/>
<polygon stroke="none" points="855.84,274.07 858.55,273.35 886.96,312.77 887.65,316.51 885.43,317.52 865.95,306.57 854.51,325.76 852.09,325.99 850.82,322.4"/>
<line x1="934" y1="419.8" x2="1168.77" y2="317.67" stroke-width="5.6"/>
<polygon stroke="none" points="1197.01,303.86 1198.13,306.42 1163.4,340.4 1159.79,341.64 1158.47,339.6 1166.39,318.7 1145.7,310.25 1145.11,307.89 1148.48,306.1"/>
<line x1="838.5" y1="420" x2="752.06" y2="443.02" stroke-width="5.6"/>
<polygon stroke="none" points="722.07,452.46 721.35,449.75 760.77,421.35 764.52,420.66 765.53,422.88 754.57,442.35 773.76,453.8 773.99,456.22 770.4,457.49"/>
<line x1="934.2" y1="445" x2="967.67" y2="487.7" stroke-width="5.6"/>
<polygon stroke="none" points="988.15,511.55 985.94,513.28 944.32,488.22 942.21,485.05 943.85,483.25 966.07,485.66 969.04,463.51 971.17,462.34 973.75,465.15"/>
<line x1="544.5" y1="592.2" x2="614.75" y2="380.23" stroke-width="5.6"/>
<polygon stroke="none" points="623.3,349.98 625.95,350.86 628.09,399.4 626.61,402.91 624.21,402.54 613.93,382.69 593.84,392.47 591.68,391.33 592.59,387.63"/>
<line x1="452.3" y1="592" x2="404.71" y2="541.72" stroke-width="5.6"/>
<polygon stroke="none" points="382.11,519.87 384.14,517.95 427.91,539.03 430.31,542 428.84,543.94 406.5,543.6 405.6,565.93 403.58,567.29 400.75,564.74"/>
<line x1="625.9" y1="620.9" x2="723.78" y2="627.74" stroke-width="5.6"/>
<polygon stroke="none" points="755.2,628.53 755,631.32 708.51,645.42 704.74,644.85 704.5,642.43 721.18,627.56 706.73,610.51 707.3,608.14 711.11,608.11"/>
<line x1="474.6" y1="642.8" x2="442.7" y2="744.23" stroke-width="5.6"/>
<polygon stroke="none" points="434.62,774.6 431.94,773.76 429.06,725.26 430.49,721.73 432.9,722.07 443.48,741.75 463.42,731.67 465.59,732.77 464.74,736.48"/>
<line x1="1215.9" y1="771.8" x2="1233.7" y2="695" stroke-width="5.6"/>
<polygon stroke="none" points="1239.43,664.09 1242.15,664.73 1248.76,712.86 1247.61,716.49 1245.18,716.34 1233.11,697.53 1214,709.12 1211.76,708.19 1212.32,704.42"/>
<line x1="1251.6" y1="784.1" x2="1362.13" y2="644.88" stroke-width="5.6"/>
<polygon stroke="none" points="1380.55,619.42 1382.75,621.16 1368.07,667.47 1365.47,670.26 1363.34,669.08 1360.51,646.92 1338.28,649.19 1336.65,647.38 1338.77,644.22"/>
<line x1="1144.5" y1="812.4" x2="892.67" y2="770.22" stroke-width="5.6"/>
<polygon stroke="none" points="861.47,766.41 861.94,763.65 909.57,754.09 913.27,755.01 913.27,757.45 895.24,770.65 907.98,789.01 907.19,791.31 903.39,790.98"/>
<line x1="1195.8" y1="840" x2="1160.51" y2="953.5" stroke-width="5.6"/>
<polygon stroke="none" points="1152.52,983.9 1149.84,983.07 1146.81,934.58 1148.22,931.04 1150.63,931.37 1161.28,951.02 1181.19,940.87 1183.36,941.96 1182.52,945.68"/>
</g>
<g class="an">
<text x="847.4" y="430.3">task</text>
<text x="445" y="627.5">obstacle</text>
<text x="1150.6" y="825" textLength="88.6" lengthAdjust="spacingAndGlyphs">USV</text>
</g>
</svg>
</body></html>
